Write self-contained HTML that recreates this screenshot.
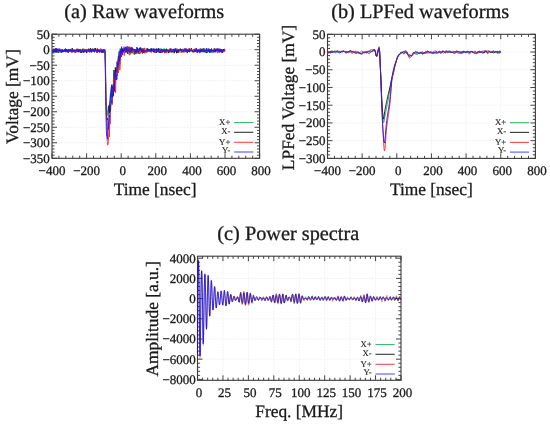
<!DOCTYPE html>
<html><head><meta charset="utf-8"><style>html,body{margin:0;padding:0;background:#fff;width:550px;height:425px;overflow:hidden}svg{display:block;text-rendering:geometricPrecision;filter:blur(0.3px)}text{stroke:#1a1a1a}</style></head>
<body>
<svg width="550" height="425" viewBox="0 0 550 425" font-family="Liberation Serif, Times New Roman, serif" fill="#1a1a1a" stroke-width="0.3">
<rect width="550" height="425" fill="#fff"/>
<path d="M86.60,34.2V158.3M121.20,34.2V158.3M155.80,34.2V158.3M190.40,34.2V158.3M225.00,34.2V158.3M52,142.79H259.6M52,127.28H259.6M52,111.76H259.6M52,96.25H259.6M52,80.74H259.6M52,65.23H259.6M52,49.71H259.6" stroke="#f2f2f2" stroke-width="1" stroke-dasharray="2,1" fill="none"/>
<path d="M52.00,158.3v-5M52.00,34.2v5M86.60,158.3v-5M86.60,34.2v5M121.20,158.3v-5M121.20,34.2v5M155.80,158.3v-5M155.80,34.2v5M190.40,158.3v-5M190.40,34.2v5M225.00,158.3v-5M225.00,34.2v5M259.60,158.3v-5M259.60,34.2v5M58.92,158.3v-2.6M58.92,34.2v2.6M65.84,158.3v-2.6M65.84,34.2v2.6M72.76,158.3v-2.6M72.76,34.2v2.6M79.68,158.3v-2.6M79.68,34.2v2.6M93.52,158.3v-2.6M93.52,34.2v2.6M100.44,158.3v-2.6M100.44,34.2v2.6M107.36,158.3v-2.6M107.36,34.2v2.6M114.28,158.3v-2.6M114.28,34.2v2.6M128.12,158.3v-2.6M128.12,34.2v2.6M135.04,158.3v-2.6M135.04,34.2v2.6M141.96,158.3v-2.6M141.96,34.2v2.6M148.88,158.3v-2.6M148.88,34.2v2.6M162.72,158.3v-2.6M162.72,34.2v2.6M169.64,158.3v-2.6M169.64,34.2v2.6M176.56,158.3v-2.6M176.56,34.2v2.6M183.48,158.3v-2.6M183.48,34.2v2.6M197.32,158.3v-2.6M197.32,34.2v2.6M204.24,158.3v-2.6M204.24,34.2v2.6M211.16,158.3v-2.6M211.16,34.2v2.6M218.08,158.3v-2.6M218.08,34.2v2.6M231.92,158.3v-2.6M231.92,34.2v2.6M238.84,158.3v-2.6M238.84,34.2v2.6M245.76,158.3v-2.6M245.76,34.2v2.6M252.68,158.3v-2.6M252.68,34.2v2.6M52,158.30h5M259.6,158.30h-5M52,142.79h5M259.6,142.79h-5M52,127.28h5M259.6,127.28h-5M52,111.76h5M259.6,111.76h-5M52,96.25h5M259.6,96.25h-5M52,80.74h5M259.6,80.74h-5M52,65.23h5M259.6,65.23h-5M52,49.71h5M259.6,49.71h-5M52,34.20h5M259.6,34.20h-5M52,155.20h2.6M259.6,155.20h-2.6M52,152.09h2.6M259.6,152.09h-2.6M52,148.99h2.6M259.6,148.99h-2.6M52,145.89h2.6M259.6,145.89h-2.6M52,139.69h2.6M259.6,139.69h-2.6M52,136.58h2.6M259.6,136.58h-2.6M52,133.48h2.6M259.6,133.48h-2.6M52,130.38h2.6M259.6,130.38h-2.6M52,124.17h2.6M259.6,124.17h-2.6M52,121.07h2.6M259.6,121.07h-2.6M52,117.97h2.6M259.6,117.97h-2.6M52,114.87h2.6M259.6,114.87h-2.6M52,108.66h2.6M259.6,108.66h-2.6M52,105.56h2.6M259.6,105.56h-2.6M52,102.46h2.6M259.6,102.46h-2.6M52,99.35h2.6M259.6,99.35h-2.6M52,93.15h2.6M259.6,93.15h-2.6M52,90.05h2.6M259.6,90.05h-2.6M52,86.94h2.6M259.6,86.94h-2.6M52,83.84h2.6M259.6,83.84h-2.6M52,77.64h2.6M259.6,77.64h-2.6M52,74.53h2.6M259.6,74.53h-2.6M52,71.43h2.6M259.6,71.43h-2.6M52,68.33h2.6M259.6,68.33h-2.6M52,62.12h2.6M259.6,62.12h-2.6M52,59.02h2.6M259.6,59.02h-2.6M52,55.92h2.6M259.6,55.92h-2.6M52,52.82h2.6M259.6,52.82h-2.6M52,46.61h2.6M259.6,46.61h-2.6M52,43.51h2.6M259.6,43.51h-2.6M52,40.41h2.6M259.6,40.41h-2.6M52,37.30h2.6M259.6,37.30h-2.6" stroke="#444" stroke-width="1" fill="none"/>
<rect x="52" y="34.2" width="207.60" height="124.10" stroke="#3a3a3a" stroke-width="1.1" fill="none"/>
<text x="52.00" y="175.2" text-anchor="middle" font-size="13">−400</text>
<text x="86.60" y="175.2" text-anchor="middle" font-size="13">−200</text>
<text x="122.70" y="175.2" text-anchor="middle" font-size="13">0</text>
<text x="157.30" y="175.2" text-anchor="middle" font-size="13">200</text>
<text x="191.90" y="175.2" text-anchor="middle" font-size="13">400</text>
<text x="226.50" y="175.2" text-anchor="middle" font-size="13">600</text>
<text x="261.10" y="175.2" text-anchor="middle" font-size="13">800</text>
<text x="49.8" y="162.69" text-anchor="end" font-size="13">−350</text>
<text x="49.8" y="147.18" text-anchor="end" font-size="13">−300</text>
<text x="49.8" y="131.67" text-anchor="end" font-size="13">−250</text>
<text x="49.8" y="116.16" text-anchor="end" font-size="13">−200</text>
<text x="49.8" y="100.64" text-anchor="end" font-size="13">−150</text>
<text x="49.8" y="85.13" text-anchor="end" font-size="13">−100</text>
<text x="49.8" y="69.62" text-anchor="end" font-size="13">−50</text>
<text x="49.8" y="54.11" text-anchor="end" font-size="13">0</text>
<text x="49.8" y="38.59" text-anchor="end" font-size="13">50</text>
<g clip-path="url(#ca)">
<clipPath id="ca"><rect x="52" y="34.2" width="207.60000000000002" height="124.10000000000001"/></clipPath>
<polyline points="52.00,50.61 52.35,49.12 52.69,49.28 53.04,51.21 53.38,50.98 53.73,51.23 54.08,50.01 54.42,50.71 54.77,49.81 55.11,52.71 55.46,48.89 55.81,50.75 56.15,49.88 56.50,50.80 56.84,51.07 57.19,50.13 57.54,49.72 57.88,50.87 58.23,50.81 58.57,49.88 58.92,51.62 59.27,52.33 59.61,50.20 59.96,51.39 60.30,52.79 60.65,51.55 61.00,51.17 61.34,51.98 61.69,52.31 62.03,50.60 62.38,49.64 62.73,50.90 63.07,51.47 63.42,50.21 63.76,49.84 64.11,50.98 64.46,50.03 64.80,49.48 65.15,50.87 65.49,51.55 65.84,50.25 66.19,50.37 66.53,49.42 66.88,52.08 67.22,51.38 67.57,51.58 67.92,52.58 68.26,50.50 68.61,50.05 68.95,51.47 69.30,49.10 69.65,49.73 69.99,49.94 70.34,50.19 70.68,49.58 71.03,52.13 71.38,49.96 71.72,49.97 72.07,52.62 72.41,50.26 72.76,50.92 73.11,49.77 73.45,51.13 73.80,50.66 74.14,50.26 74.49,51.62 74.84,49.97 75.18,50.76 75.53,50.09 75.87,51.23 76.22,49.43 76.57,49.97 76.91,50.84 77.26,49.94 77.60,49.24 77.95,48.64 78.30,52.40 78.64,49.66 78.99,50.12 79.33,50.75 79.68,51.77 80.03,49.24 80.37,52.05 80.72,50.01 81.06,49.19 81.41,52.43 81.76,50.98 82.10,52.11 82.45,50.37 82.79,48.95 83.14,48.38 83.49,52.63 83.83,51.29 84.18,49.86 84.52,48.88 84.87,50.17 85.22,51.48 85.56,50.31 85.91,50.66 86.25,50.87 86.60,51.46 86.95,50.21 87.29,50.30 87.64,50.75 87.98,50.89 88.33,52.08 88.68,51.19 89.02,49.30 89.37,50.86 89.71,52.25 90.06,49.15 90.41,50.05 90.75,48.29 91.10,50.57 91.44,51.16 91.79,52.26 92.14,49.16 92.48,48.19 92.83,51.56 93.17,51.37 93.52,49.98 93.87,51.57 94.21,50.95 94.56,51.03 94.90,50.43 95.25,49.42 95.60,50.62 95.94,49.62 96.29,51.11 96.63,50.28 96.98,53.03 97.33,52.26 97.67,49.75 98.02,51.30 98.36,50.00 98.71,50.04 99.06,49.17 99.40,49.74 99.75,49.51 100.09,50.77 100.44,51.42 100.79,51.46 101.13,51.19 101.48,51.91 101.82,51.25 102.17,50.75 102.52,50.36 102.86,51.02 103.21,52.79 103.55,50.72 103.90,50.39 104.25,49.43 104.59,50.00 104.94,51.36 105.28,60.96 105.63,76.17 105.98,93.53 106.32,104.47 106.67,110.94 107.01,115.51 107.36,112.44 107.71,110.57 108.05,108.06 108.40,106.13 108.74,106.23 109.09,104.64 109.44,111.67 109.78,101.95 110.13,102.63 110.47,95.47 110.82,96.63 111.17,88.92 111.51,86.19 111.86,87.43 112.20,85.89 112.55,85.63 112.90,87.09 113.24,84.05 113.59,84.39 113.93,78.12 114.28,78.74 114.63,74.26 114.97,83.34 115.32,69.94 115.66,77.70 116.01,76.33 116.36,72.20 116.70,73.00 117.05,67.11 117.39,70.57 117.74,71.93 118.09,69.25 118.43,55.90 118.78,61.22 119.12,66.25 119.47,58.31 119.82,64.09 120.16,48.26 120.51,60.35 120.85,52.23 121.20,51.44 121.55,55.77 121.89,50.95 122.24,48.87 122.58,49.61 122.93,50.03 123.28,48.44 123.62,50.27 123.97,49.87 124.31,50.93 124.66,49.22 125.01,52.75 125.35,48.88 125.70,51.76 126.04,53.03 126.39,49.85 126.74,46.99 127.08,48.58 127.43,51.74 127.77,49.17 128.12,51.59 128.47,50.90 128.81,50.46 129.16,55.14 129.50,50.25 129.85,52.71 130.20,52.03 130.54,53.56 130.89,53.62 131.23,52.48 131.58,49.05 131.93,47.46 132.27,50.69 132.62,48.59 132.96,51.13 133.31,54.17 133.66,50.37 134.00,49.84 134.35,51.41 134.69,50.11 135.04,49.63 135.39,52.15 135.73,53.20 136.08,51.02 136.42,51.00 136.77,51.24 137.12,49.00 137.46,47.80 137.81,51.32 138.15,49.52 138.50,49.14 138.85,49.52 139.19,49.01 139.54,51.25 139.88,49.51 140.23,47.58 140.58,49.44 140.92,51.56 141.27,49.75 141.61,48.82 141.96,50.12 142.31,51.44 142.65,48.49 143.00,52.37 143.34,49.96 143.69,50.67 144.04,52.23 144.38,49.04 144.73,50.19 145.07,52.14 145.42,49.88 145.77,51.18 146.11,52.99 146.46,51.48 146.80,50.33 147.15,49.89 147.50,50.45 147.84,50.59 148.19,50.11 148.53,50.88 148.88,49.33 149.23,50.48 149.57,50.31 149.92,50.04 150.26,51.82 150.61,51.44 150.96,48.94 151.30,50.27 151.65,50.96 151.99,50.26 152.34,51.18 152.69,50.33 153.03,51.39 153.38,50.33 153.72,52.41 154.07,49.16 154.42,51.22 154.76,52.41 155.11,50.89 155.45,51.06 155.80,50.47 156.15,51.92 156.49,50.20 156.84,48.19 157.18,52.07 157.53,50.27 157.88,50.99 158.22,50.43 158.57,52.67 158.91,51.93 159.26,50.13 159.61,50.69 159.95,48.82 160.30,51.43 160.64,50.45 160.99,48.19 161.34,51.50 161.68,51.65 162.03,50.68 162.37,50.69 162.72,49.70 163.07,50.50 163.41,51.49 163.76,50.41 164.10,48.19 164.45,49.22 164.80,53.10 165.14,50.80 165.49,51.62 165.83,49.95 166.18,50.84 166.53,48.48 166.87,49.60 167.22,49.65 167.56,50.43 167.91,50.69 168.26,50.26 168.60,49.20 168.95,50.05 169.29,51.04 169.64,49.22 169.99,50.43 170.33,50.73 170.68,51.53 171.02,51.28 171.37,51.35 171.72,53.10 172.06,49.51 172.41,50.01 172.75,50.88 173.10,49.47 173.45,50.15 173.79,50.23 174.14,53.10 174.48,50.90 174.83,50.05 175.18,48.85 175.52,48.59 175.87,49.05 176.21,51.94 176.56,53.10 176.91,50.01 177.25,50.61 177.60,49.57 177.94,50.78 178.29,50.40 178.64,52.32 178.98,50.14 179.33,51.14 179.67,50.25 180.02,50.13 180.37,50.77 180.71,50.29 181.06,50.66 181.40,49.80 181.75,50.08 182.10,51.25 182.44,51.30 182.79,48.70 183.13,50.76 183.48,49.54 183.83,50.20 184.17,51.27 184.52,51.48 184.86,50.51 185.21,50.36 185.56,49.96 185.90,52.06 186.25,51.31 186.59,50.75 186.94,48.86 187.29,53.10 187.63,50.15 187.98,51.25 188.32,50.16 188.67,51.19 189.02,50.24 189.36,48.90 189.71,50.25 190.05,50.16 190.40,50.23 190.75,51.48 191.09,50.04 191.44,50.88 191.78,51.55 192.13,50.69 192.48,50.90 192.82,49.80 193.17,50.69 193.51,51.23 193.86,49.02 194.21,49.54 194.55,49.23 194.90,49.96 195.24,50.77 195.59,51.11 195.94,50.96 196.28,49.58 196.63,50.52 196.97,52.30 197.32,50.69 197.67,52.22 198.01,50.46 198.36,51.99 198.70,52.05 199.05,50.51 199.40,50.73 199.74,52.50 200.09,49.81 200.43,48.23 200.78,52.30 201.13,48.61 201.47,51.41 201.82,51.20 202.16,50.84 202.51,52.26 202.86,49.19 203.20,50.09 203.55,51.48 203.89,50.95 204.24,52.34 204.59,51.03 204.93,49.60 205.28,52.56 205.62,51.13 205.97,50.48 206.32,49.47 206.66,49.14 207.01,51.15 207.35,51.47 207.70,50.14 208.05,51.05 208.39,50.99 208.74,49.44 209.08,48.76 209.43,50.35 209.78,50.86 210.12,50.01 210.47,52.75 210.81,50.66 211.16,51.83 211.51,48.19 211.85,49.84 212.20,50.49 212.54,50.86 212.89,53.10 213.24,49.85 213.58,48.82 213.93,51.46 214.27,49.88 214.62,49.84 214.97,52.37 215.31,49.60 215.66,49.13 216.00,50.39 216.35,50.71 216.70,49.76 217.04,52.36 217.39,50.54 217.73,49.47 218.08,52.03 218.43,49.53 218.77,51.11 219.12,52.97 219.46,50.76 219.81,51.73 220.16,50.29 220.50,51.95 220.85,49.47 221.19,51.47 221.54,50.25 221.89,51.31 222.23,51.00 222.58,49.31 222.92,50.40 223.27,51.08 223.62,52.04 223.96,49.35 224.31,49.82 224.65,51.01 225.00,50.37" stroke="#22aa44" stroke-width="0.9" fill="none" stroke-linejoin="round" opacity="0.9"/>
<polyline points="52.00,50.65 52.35,49.47 52.69,49.81 53.04,49.83 53.38,48.84 53.73,51.99 54.08,51.34 54.42,52.12 54.77,50.76 55.11,49.53 55.46,50.67 55.81,50.09 56.15,52.78 56.50,50.48 56.84,51.66 57.19,48.66 57.54,49.65 57.88,49.58 58.23,50.71 58.57,49.96 58.92,49.91 59.27,51.03 59.61,51.20 59.96,50.77 60.30,51.32 60.65,51.31 61.00,50.96 61.34,51.46 61.69,49.79 62.03,52.43 62.38,49.72 62.73,51.34 63.07,51.25 63.42,52.15 63.76,50.80 64.11,50.92 64.46,50.43 64.80,51.24 65.15,50.54 65.49,48.61 65.84,50.19 66.19,51.28 66.53,49.58 66.88,50.79 67.22,49.98 67.57,49.96 67.92,51.08 68.26,52.80 68.61,51.03 68.95,50.03 69.30,51.07 69.65,50.15 69.99,49.55 70.34,51.25 70.68,49.27 71.03,48.83 71.38,49.44 71.72,49.34 72.07,49.42 72.41,48.19 72.76,50.44 73.11,50.64 73.45,49.97 73.80,51.66 74.14,52.38 74.49,51.63 74.84,50.23 75.18,50.11 75.53,52.36 75.87,52.75 76.22,51.00 76.57,50.85 76.91,50.70 77.26,49.89 77.60,49.27 77.95,50.39 78.30,49.96 78.64,51.87 78.99,51.96 79.33,50.38 79.68,49.90 80.03,49.83 80.37,49.98 80.72,49.77 81.06,49.74 81.41,52.60 81.76,51.46 82.10,50.13 82.45,49.98 82.79,52.33 83.14,49.33 83.49,51.13 83.83,50.90 84.18,50.34 84.52,49.81 84.87,52.24 85.22,49.54 85.56,50.56 85.91,51.50 86.25,50.95 86.60,53.08 86.95,51.37 87.29,50.44 87.64,51.44 87.98,51.01 88.33,50.81 88.68,50.59 89.02,49.50 89.37,50.67 89.71,50.93 90.06,50.04 90.41,48.32 90.75,51.03 91.10,50.07 91.44,52.40 91.79,49.14 92.14,49.91 92.48,49.15 92.83,50.71 93.17,51.81 93.52,49.65 93.87,49.80 94.21,51.61 94.56,52.29 94.90,50.14 95.25,50.83 95.60,48.19 95.94,51.33 96.29,51.23 96.63,50.77 96.98,52.50 97.33,51.64 97.67,48.81 98.02,50.79 98.36,51.32 98.71,52.06 99.06,49.99 99.40,49.91 99.75,50.36 100.09,51.08 100.44,50.30 100.79,50.22 101.13,51.40 101.48,49.95 101.82,53.01 102.17,52.08 102.52,50.98 102.86,50.76 103.21,51.94 103.55,50.28 103.90,49.46 104.25,50.14 104.59,50.39 104.94,49.72 105.28,61.36 105.63,84.50 105.98,101.69 106.32,112.70 106.67,120.17 107.01,118.33 107.36,118.58 107.71,119.56 108.05,119.17 108.40,111.01 108.74,107.87 109.09,105.89 109.44,113.19 109.78,104.47 110.13,98.60 110.47,93.05 110.82,92.51 111.17,89.71 111.51,86.40 111.86,86.11 112.20,93.34 112.55,86.94 112.90,89.59 113.24,96.25 113.59,92.00 113.93,70.03 114.28,86.16 114.63,90.67 114.97,80.41 115.32,67.47 115.66,74.56 116.01,70.63 116.36,72.87 116.70,70.37 117.05,61.53 117.39,62.60 117.74,65.82 118.09,58.81 118.43,56.13 118.78,61.53 119.12,57.33 119.47,56.08 119.82,58.95 120.16,50.45 120.51,54.69 120.85,55.17 121.20,56.92 121.55,54.62 121.89,47.90 122.24,53.33 122.58,49.63 122.93,51.50 123.28,49.46 123.62,49.26 123.97,52.42 124.31,51.30 124.66,50.42 125.01,50.39 125.35,50.71 125.70,51.33 126.04,49.27 126.39,47.79 126.74,49.48 127.08,52.22 127.43,49.80 127.77,50.51 128.12,49.68 128.47,46.83 128.81,51.08 129.16,50.67 129.50,52.43 129.85,51.22 130.20,51.77 130.54,47.49 130.89,50.05 131.23,51.75 131.58,46.94 131.93,53.17 132.27,49.02 132.62,48.74 132.96,49.58 133.31,51.12 133.66,50.88 134.00,51.26 134.35,49.24 134.69,54.54 135.04,51.54 135.39,50.38 135.73,51.64 136.08,53.74 136.42,51.05 136.77,51.91 137.12,49.32 137.46,48.35 137.81,50.53 138.15,53.75 138.50,50.95 138.85,52.10 139.19,49.58 139.54,48.04 139.88,50.16 140.23,47.58 140.58,48.39 140.92,49.62 141.27,51.90 141.61,50.34 141.96,52.55 142.31,49.02 142.65,50.31 143.00,48.58 143.34,50.07 143.69,53.06 144.04,49.60 144.38,49.24 144.73,48.31 145.07,51.70 145.42,51.62 145.77,50.38 146.11,51.76 146.46,52.13 146.80,51.78 147.15,48.06 147.50,51.22 147.84,51.66 148.19,51.02 148.53,50.52 148.88,49.08 149.23,49.47 149.57,49.65 149.92,50.48 150.26,50.35 150.61,51.24 150.96,52.21 151.30,48.25 151.65,51.04 151.99,49.40 152.34,50.89 152.69,50.64 153.03,50.71 153.38,52.07 153.72,50.62 154.07,50.11 154.42,49.61 154.76,49.99 155.11,49.40 155.45,50.21 155.80,50.55 156.15,52.74 156.49,51.14 156.84,48.81 157.18,50.41 157.53,49.66 157.88,50.79 158.22,51.30 158.57,48.26 158.91,50.15 159.26,48.88 159.61,49.96 159.95,50.88 160.30,53.06 160.64,50.45 160.99,52.30 161.34,53.03 161.68,49.17 162.03,49.74 162.37,49.83 162.72,50.50 163.07,50.59 163.41,50.08 163.76,50.38 164.10,50.47 164.45,49.73 164.80,53.10 165.14,49.56 165.49,51.27 165.83,49.60 166.18,49.25 166.53,51.51 166.87,49.68 167.22,49.70 167.56,51.38 167.91,51.19 168.26,50.48 168.60,53.10 168.95,51.12 169.29,50.41 169.64,51.13 169.99,52.42 170.33,51.07 170.68,48.94 171.02,49.15 171.37,50.77 171.72,51.53 172.06,50.65 172.41,50.62 172.75,51.39 173.10,51.01 173.45,49.94 173.79,49.59 174.14,53.10 174.48,49.55 174.83,50.49 175.18,49.35 175.52,50.66 175.87,50.15 176.21,48.81 176.56,53.10 176.91,48.86 177.25,50.43 177.60,52.68 177.94,53.10 178.29,50.29 178.64,51.79 178.98,49.52 179.33,50.40 179.67,50.79 180.02,49.53 180.37,50.42 180.71,49.81 181.06,49.71 181.40,50.28 181.75,49.76 182.10,49.76 182.44,52.17 182.79,50.95 183.13,50.78 183.48,51.06 183.83,52.42 184.17,51.28 184.52,50.26 184.86,50.43 185.21,48.94 185.56,51.32 185.90,51.13 186.25,51.28 186.59,51.00 186.94,51.32 187.29,52.73 187.63,50.26 187.98,49.54 188.32,49.39 188.67,51.86 189.02,50.86 189.36,48.58 189.71,50.76 190.05,50.25 190.40,50.81 190.75,49.52 191.09,49.56 191.44,48.19 191.78,50.08 192.13,50.14 192.48,52.00 192.82,51.10 193.17,51.43 193.51,51.01 193.86,52.11 194.21,49.28 194.55,51.82 194.90,50.34 195.24,52.05 195.59,50.26 195.94,48.79 196.28,51.56 196.63,50.24 196.97,50.72 197.32,50.33 197.67,50.17 198.01,51.35 198.36,50.84 198.70,51.30 199.05,51.56 199.40,52.02 199.74,49.56 200.09,51.47 200.43,49.90 200.78,50.02 201.13,51.76 201.47,49.47 201.82,51.60 202.16,49.94 202.51,49.01 202.86,51.44 203.20,51.68 203.55,51.70 203.89,48.19 204.24,51.06 204.59,52.06 204.93,49.73 205.28,50.84 205.62,50.68 205.97,51.76 206.32,53.10 206.66,51.47 207.01,51.82 207.35,52.46 207.70,51.87 208.05,51.71 208.39,49.76 208.74,49.87 209.08,50.08 209.43,51.25 209.78,52.06 210.12,50.32 210.47,50.14 210.81,49.54 211.16,50.69 211.51,50.80 211.85,50.31 212.20,51.69 212.54,51.55 212.89,49.94 213.24,52.06 213.58,50.74 213.93,49.78 214.27,50.39 214.62,50.17 214.97,51.89 215.31,50.79 215.66,50.95 216.00,49.97 216.35,50.18 216.70,50.61 217.04,48.52 217.39,50.03 217.73,50.95 218.08,51.32 218.43,50.67 218.77,51.27 219.12,48.80 219.46,49.99 219.81,50.97 220.16,51.35 220.50,51.82 220.85,50.93 221.19,49.15 221.54,49.68 221.89,50.68 222.23,50.46 222.58,52.70 222.92,49.76 223.27,50.86 223.62,49.08 223.96,50.81 224.31,51.15 224.65,50.37 225.00,51.32" stroke="#111111" stroke-width="0.9" fill="none" stroke-linejoin="round" opacity="0.9"/>
<polyline points="52.00,48.60 52.35,53.10 52.69,49.57 53.04,50.57 53.38,49.17 53.73,50.21 54.08,48.60 54.42,50.61 54.77,51.22 55.11,49.99 55.46,50.16 55.81,51.04 56.15,50.92 56.50,49.84 56.84,49.86 57.19,51.19 57.54,51.05 57.88,52.66 58.23,48.77 58.57,50.89 58.92,49.15 59.27,50.18 59.61,48.47 59.96,48.93 60.30,50.29 60.65,48.99 61.00,51.70 61.34,49.24 61.69,52.30 62.03,50.26 62.38,49.45 62.73,50.39 63.07,51.05 63.42,51.54 63.76,51.03 64.11,49.47 64.46,49.65 64.80,50.94 65.15,52.03 65.49,49.89 65.84,52.26 66.19,51.24 66.53,51.46 66.88,49.81 67.22,50.38 67.57,50.13 67.92,50.34 68.26,51.40 68.61,50.05 68.95,49.07 69.30,50.68 69.65,49.94 69.99,50.78 70.34,49.49 70.68,49.90 71.03,49.67 71.38,50.25 71.72,48.81 72.07,51.05 72.41,51.02 72.76,51.30 73.11,49.96 73.45,51.34 73.80,51.36 74.14,49.83 74.49,49.35 74.84,50.00 75.18,53.10 75.53,51.71 75.87,51.84 76.22,51.99 76.57,51.10 76.91,48.61 77.26,50.99 77.60,51.46 77.95,49.86 78.30,50.57 78.64,50.51 78.99,51.41 79.33,50.64 79.68,50.16 80.03,52.78 80.37,52.44 80.72,49.43 81.06,49.70 81.41,51.21 81.76,51.78 82.10,50.85 82.45,51.98 82.79,51.02 83.14,48.80 83.49,50.50 83.83,49.34 84.18,50.89 84.52,50.23 84.87,49.10 85.22,52.14 85.56,51.03 85.91,50.82 86.25,50.33 86.60,48.91 86.95,49.88 87.29,52.32 87.64,50.95 87.98,51.64 88.33,51.67 88.68,48.38 89.02,51.83 89.37,50.38 89.71,51.44 90.06,49.68 90.41,50.25 90.75,50.50 91.10,50.73 91.44,49.37 91.79,51.68 92.14,51.46 92.48,51.89 92.83,49.15 93.17,50.97 93.52,51.80 93.87,51.11 94.21,48.19 94.56,50.76 94.90,49.69 95.25,50.12 95.60,50.66 95.94,51.42 96.29,51.02 96.63,51.04 96.98,53.10 97.33,48.19 97.67,49.61 98.02,50.51 98.36,50.87 98.71,51.53 99.06,49.58 99.40,50.85 99.75,50.11 100.09,52.19 100.44,50.22 100.79,48.41 101.13,50.97 101.48,49.75 101.82,50.60 102.17,49.41 102.52,49.45 102.86,50.57 103.21,51.27 103.55,50.32 103.90,50.60 104.25,51.33 104.59,50.13 104.94,50.16 105.28,51.64 105.63,75.79 105.98,96.01 106.32,116.74 106.67,131.72 107.01,137.12 107.36,141.20 107.71,145.21 108.05,144.28 108.40,141.65 108.74,129.72 109.09,122.87 109.44,136.93 109.78,115.31 110.13,124.17 110.47,112.09 110.82,107.21 111.17,104.13 111.51,103.60 111.86,100.04 112.20,104.72 112.55,94.67 112.90,88.73 113.24,87.10 113.59,78.39 113.93,82.84 114.28,83.21 114.63,76.54 114.97,82.72 115.32,89.44 115.66,92.78 116.01,72.18 116.36,74.44 116.70,71.29 117.05,76.09 117.39,70.71 117.74,60.57 118.09,67.12 118.43,73.02 118.78,67.21 119.12,55.25 119.47,66.81 119.82,70.12 120.16,67.60 120.51,61.79 120.85,52.18 121.20,53.85 121.55,55.36 121.89,55.47 122.24,51.89 122.58,51.42 122.93,51.89 123.28,51.22 123.62,52.42 123.97,46.48 124.31,55.69 124.66,50.37 125.01,52.93 125.35,49.06 125.70,51.17 126.04,49.83 126.39,49.48 126.74,50.20 127.08,48.50 127.43,53.62 127.77,48.62 128.12,51.11 128.47,49.85 128.81,47.41 129.16,48.33 129.50,46.59 129.85,55.10 130.20,52.56 130.54,48.72 130.89,52.88 131.23,51.00 131.58,47.32 131.93,48.96 132.27,52.48 132.62,49.78 132.96,49.43 133.31,50.52 133.66,50.83 134.00,50.38 134.35,53.36 134.69,50.42 135.04,52.36 135.39,49.95 135.73,49.89 136.08,52.19 136.42,49.59 136.77,50.04 137.12,50.71 137.46,49.44 137.81,51.16 138.15,51.11 138.50,50.52 138.85,50.74 139.19,48.84 139.54,54.08 139.88,51.12 140.23,53.73 140.58,51.44 140.92,50.30 141.27,50.68 141.61,49.27 141.96,50.23 142.31,53.79 142.65,52.28 143.00,48.53 143.34,48.55 143.69,50.57 144.04,52.80 144.38,47.82 144.73,53.48 145.07,50.32 145.42,50.79 145.77,50.42 146.11,52.19 146.46,51.23 146.80,49.42 147.15,51.32 147.50,52.37 147.84,50.76 148.19,50.64 148.53,50.89 148.88,51.62 149.23,50.13 149.57,50.88 149.92,52.06 150.26,50.50 150.61,50.77 150.96,50.58 151.30,52.65 151.65,51.60 151.99,50.23 152.34,49.69 152.69,50.34 153.03,50.55 153.38,49.91 153.72,49.62 154.07,48.73 154.42,50.18 154.76,51.33 155.11,50.16 155.45,52.87 155.80,50.62 156.15,51.18 156.49,50.70 156.84,50.12 157.18,50.61 157.53,52.29 157.88,51.06 158.22,51.56 158.57,50.68 158.91,50.25 159.26,51.73 159.61,49.84 159.95,49.20 160.30,50.95 160.64,49.84 160.99,52.31 161.34,51.25 161.68,49.57 162.03,52.62 162.37,51.22 162.72,51.65 163.07,49.37 163.41,49.37 163.76,51.35 164.10,50.51 164.45,53.10 164.80,49.70 165.14,50.26 165.49,49.17 165.83,53.10 166.18,50.26 166.53,51.04 166.87,53.10 167.22,51.42 167.56,50.74 167.91,49.75 168.26,50.43 168.60,51.23 168.95,50.15 169.29,50.77 169.64,51.38 169.99,51.79 170.33,50.48 170.68,50.47 171.02,48.59 171.37,51.15 171.72,48.86 172.06,50.26 172.41,49.33 172.75,51.66 173.10,51.62 173.45,50.99 173.79,49.65 174.14,50.45 174.48,49.80 174.83,50.29 175.18,49.50 175.52,50.42 175.87,51.23 176.21,50.07 176.56,50.54 176.91,48.69 177.25,50.82 177.60,50.52 177.94,50.99 178.29,49.35 178.64,49.67 178.98,49.92 179.33,52.04 179.67,52.34 180.02,50.35 180.37,49.84 180.71,48.99 181.06,52.65 181.40,50.83 181.75,52.53 182.10,51.72 182.44,50.89 182.79,49.57 183.13,51.23 183.48,51.45 183.83,51.00 184.17,49.24 184.52,48.19 184.86,52.37 185.21,50.95 185.56,51.12 185.90,49.34 186.25,50.16 186.59,48.92 186.94,51.77 187.29,50.63 187.63,51.15 187.98,51.87 188.32,50.82 188.67,51.97 189.02,48.22 189.36,50.18 189.71,51.78 190.05,51.32 190.40,48.71 190.75,51.18 191.09,49.87 191.44,49.99 191.78,49.42 192.13,49.93 192.48,50.88 192.82,51.30 193.17,52.63 193.51,50.70 193.86,50.49 194.21,51.05 194.55,50.80 194.90,52.00 195.24,48.22 195.59,51.20 195.94,51.80 196.28,51.31 196.63,50.83 196.97,49.81 197.32,53.10 197.67,50.07 198.01,51.33 198.36,50.84 198.70,49.51 199.05,49.79 199.40,51.40 199.74,50.75 200.09,48.55 200.43,49.12 200.78,49.67 201.13,50.63 201.47,49.56 201.82,50.20 202.16,51.25 202.51,51.76 202.86,50.05 203.20,50.21 203.55,49.29 203.89,51.18 204.24,49.07 204.59,51.05 204.93,49.24 205.28,50.03 205.62,51.28 205.97,51.70 206.32,50.77 206.66,50.93 207.01,49.59 207.35,51.41 207.70,52.29 208.05,50.66 208.39,48.49 208.74,48.81 209.08,51.33 209.43,50.95 209.78,50.28 210.12,51.38 210.47,50.91 210.81,50.95 211.16,51.81 211.51,51.33 211.85,51.18 212.20,50.38 212.54,51.96 212.89,50.52 213.24,51.74 213.58,51.54 213.93,51.90 214.27,48.19 214.62,49.24 214.97,49.14 215.31,49.73 215.66,50.90 216.00,50.56 216.35,50.32 216.70,50.14 217.04,49.98 217.39,48.93 217.73,53.10 218.08,51.26 218.43,49.88 218.77,51.04 219.12,50.82 219.46,48.97 219.81,50.43 220.16,48.65 220.50,50.69 220.85,50.38 221.19,51.83 221.54,52.86 221.89,51.11 222.23,50.57 222.58,51.03 222.92,52.15 223.27,49.91 223.62,50.56 223.96,50.63 224.31,51.51 224.65,48.80 225.00,48.99" stroke="#ff2020" stroke-width="0.9" fill="none" stroke-linejoin="round" opacity="0.9"/>
<polyline points="52.00,49.87 52.35,51.74 52.69,52.40 53.04,53.10 53.38,51.04 53.73,49.25 54.08,50.61 54.42,50.07 54.77,49.50 55.11,51.63 55.46,48.19 55.81,51.62 56.15,50.23 56.50,48.19 56.84,50.77 57.19,50.52 57.54,51.21 57.88,50.27 58.23,53.02 58.57,51.37 58.92,48.75 59.27,50.41 59.61,50.91 59.96,50.23 60.30,50.18 60.65,50.47 61.00,50.00 61.34,52.50 61.69,49.98 62.03,51.40 62.38,49.77 62.73,50.67 63.07,51.76 63.42,50.72 63.76,51.77 64.11,49.51 64.46,50.68 64.80,49.69 65.15,51.89 65.49,48.83 65.84,50.98 66.19,49.12 66.53,49.69 66.88,51.87 67.22,50.28 67.57,51.25 67.92,50.19 68.26,49.04 68.61,49.87 68.95,49.45 69.30,51.95 69.65,50.42 69.99,50.24 70.34,49.43 70.68,51.34 71.03,50.01 71.38,50.16 71.72,52.35 72.07,51.80 72.41,50.15 72.76,51.96 73.11,52.01 73.45,49.64 73.80,50.32 74.14,50.91 74.49,50.53 74.84,51.10 75.18,51.24 75.53,51.16 75.87,50.21 76.22,49.17 76.57,51.17 76.91,50.72 77.26,50.89 77.60,52.05 77.95,50.36 78.30,49.68 78.64,51.59 78.99,49.71 79.33,51.28 79.68,49.36 80.03,49.29 80.37,51.07 80.72,52.88 81.06,51.03 81.41,52.20 81.76,52.11 82.10,50.93 82.45,49.12 82.79,50.75 83.14,50.89 83.49,52.71 83.83,51.32 84.18,52.20 84.52,50.06 84.87,51.23 85.22,50.69 85.56,50.66 85.91,50.85 86.25,49.58 86.60,50.10 86.95,51.00 87.29,50.47 87.64,50.03 87.98,49.11 88.33,50.50 88.68,49.03 89.02,51.31 89.37,50.90 89.71,52.30 90.06,49.73 90.41,51.80 90.75,51.80 91.10,49.70 91.44,51.24 91.79,51.48 92.14,49.58 92.48,50.85 92.83,49.62 93.17,51.09 93.52,49.83 93.87,49.44 94.21,50.55 94.56,48.63 94.90,51.09 95.25,50.88 95.60,50.55 95.94,49.52 96.29,50.96 96.63,51.13 96.98,50.36 97.33,49.25 97.67,51.11 98.02,52.07 98.36,50.79 98.71,49.95 99.06,51.25 99.40,50.50 99.75,52.73 100.09,50.62 100.44,50.53 100.79,49.95 101.13,50.30 101.48,49.78 101.82,51.75 102.17,49.91 102.52,52.49 102.86,51.31 103.21,49.41 103.55,49.69 103.90,52.71 104.25,49.99 104.59,51.12 104.94,51.51 105.28,64.22 105.63,90.78 105.98,111.92 106.32,130.76 106.67,135.51 107.01,134.84 107.36,139.22 107.71,126.04 108.05,119.16 108.40,129.55 108.74,121.47 109.09,122.06 109.44,115.46 109.78,116.60 110.13,104.29 110.47,111.40 110.82,94.39 111.17,97.21 111.51,84.68 111.86,103.43 112.20,92.83 112.55,97.37 112.90,89.32 113.24,84.53 113.59,90.37 113.93,91.70 114.28,91.85 114.63,79.68 114.97,72.37 115.32,71.39 115.66,76.07 116.01,79.97 116.36,75.16 116.70,79.86 117.05,78.66 117.39,62.62 117.74,68.21 118.09,63.13 118.43,64.46 118.78,53.89 119.12,51.52 119.47,61.67 119.82,58.07 120.16,58.10 120.51,49.47 120.85,49.41 121.20,53.54 121.55,46.68 121.89,51.35 122.24,53.63 122.58,55.12 122.93,50.98 123.28,49.90 123.62,52.00 123.97,49.81 124.31,47.92 124.66,50.78 125.01,48.75 125.35,46.94 125.70,49.54 126.04,51.92 126.39,49.70 126.74,49.48 127.08,46.06 127.43,51.57 127.77,53.91 128.12,50.02 128.47,49.97 128.81,51.50 129.16,49.49 129.50,50.00 129.85,48.21 130.20,52.31 130.54,52.03 130.89,50.69 131.23,51.63 131.58,48.19 131.93,49.54 132.27,50.69 132.62,47.77 132.96,49.71 133.31,48.80 133.66,49.17 134.00,50.91 134.35,50.90 134.69,50.63 135.04,52.57 135.39,51.25 135.73,49.17 136.08,50.11 136.42,52.24 136.77,46.95 137.12,52.36 137.46,49.62 137.81,49.46 138.15,48.58 138.50,52.02 138.85,50.60 139.19,50.94 139.54,48.87 139.88,50.04 140.23,50.00 140.58,49.82 140.92,47.72 141.27,49.63 141.61,49.34 141.96,51.94 142.31,49.62 142.65,52.34 143.00,49.29 143.34,50.38 143.69,51.78 144.04,52.11 144.38,50.70 144.73,50.41 145.07,51.29 145.42,50.98 145.77,50.95 146.11,51.22 146.46,50.80 146.80,50.24 147.15,49.03 147.50,49.81 147.84,51.21 148.19,48.72 148.53,49.23 148.88,50.83 149.23,49.40 149.57,51.13 149.92,51.38 150.26,51.34 150.61,48.72 150.96,50.37 151.30,50.17 151.65,50.45 151.99,50.97 152.34,49.97 152.69,49.75 153.03,48.32 153.38,51.45 153.72,48.79 154.07,49.75 154.42,52.42 154.76,49.41 155.11,48.69 155.45,49.27 155.80,50.21 156.15,50.31 156.49,52.70 156.84,50.13 157.18,50.29 157.53,51.52 157.88,50.27 158.22,51.23 158.57,48.19 158.91,51.85 159.26,51.50 159.61,52.92 159.95,50.96 160.30,50.40 160.64,50.52 160.99,51.25 161.34,49.56 161.68,50.28 162.03,49.22 162.37,50.68 162.72,52.52 163.07,50.72 163.41,51.69 163.76,49.64 164.10,51.25 164.45,50.85 164.80,50.60 165.14,52.28 165.49,51.02 165.83,49.62 166.18,51.23 166.53,50.78 166.87,50.42 167.22,51.36 167.56,50.94 167.91,50.12 168.26,51.03 168.60,50.56 168.95,50.78 169.29,51.78 169.64,52.06 169.99,48.41 170.33,49.09 170.68,50.76 171.02,49.57 171.37,49.39 171.72,49.55 172.06,51.03 172.41,52.22 172.75,52.03 173.10,50.89 173.45,49.12 173.79,48.88 174.14,50.89 174.48,50.99 174.83,49.28 175.18,48.32 175.52,51.65 175.87,50.09 176.21,50.46 176.56,50.97 176.91,50.97 177.25,50.99 177.60,50.62 177.94,52.33 178.29,50.62 178.64,49.74 178.98,49.77 179.33,49.73 179.67,50.24 180.02,50.39 180.37,48.44 180.71,50.81 181.06,50.43 181.40,49.22 181.75,50.56 182.10,52.05 182.44,51.22 182.79,51.09 183.13,50.78 183.48,51.11 183.83,49.50 184.17,49.82 184.52,50.07 184.86,51.05 185.21,49.46 185.56,49.50 185.90,48.19 186.25,51.28 186.59,50.72 186.94,49.06 187.29,51.80 187.63,50.30 187.98,50.35 188.32,50.53 188.67,51.64 189.02,50.55 189.36,52.25 189.71,49.27 190.05,51.14 190.40,50.42 190.75,50.61 191.09,50.39 191.44,50.46 191.78,50.13 192.13,51.01 192.48,50.57 192.82,51.84 193.17,51.77 193.51,51.56 193.86,51.74 194.21,52.14 194.55,51.31 194.90,49.92 195.24,50.16 195.59,51.08 195.94,50.27 196.28,50.21 196.63,48.19 196.97,52.38 197.32,50.34 197.67,52.07 198.01,49.22 198.36,50.85 198.70,50.12 199.05,50.38 199.40,49.83 199.74,53.10 200.09,51.89 200.43,50.51 200.78,52.08 201.13,49.99 201.47,49.23 201.82,52.04 202.16,51.08 202.51,49.90 202.86,48.59 203.20,49.48 203.55,49.79 203.89,51.57 204.24,50.57 204.59,50.46 204.93,51.27 205.28,50.14 205.62,50.95 205.97,51.09 206.32,48.24 206.66,50.79 207.01,48.52 207.35,51.03 207.70,50.69 208.05,51.99 208.39,51.25 208.74,48.85 209.08,50.60 209.43,52.83 209.78,49.04 210.12,51.61 210.47,51.09 210.81,50.67 211.16,52.72 211.51,48.92 211.85,49.21 212.20,51.00 212.54,50.24 212.89,50.96 213.24,51.30 213.58,50.90 213.93,52.24 214.27,51.09 214.62,51.27 214.97,48.52 215.31,52.27 215.66,49.24 216.00,49.85 216.35,50.48 216.70,51.31 217.04,48.63 217.39,49.02 217.73,50.69 218.08,50.86 218.43,50.43 218.77,48.61 219.12,51.65 219.46,50.55 219.81,49.38 220.16,52.19 220.50,50.73 220.85,49.40 221.19,51.13 221.54,50.77 221.89,52.36 222.23,50.22 222.58,51.95 222.92,51.08 223.27,50.27 223.62,51.27 223.96,49.68 224.31,49.85 224.65,50.11 225.00,49.55" stroke="#1a1aff" stroke-width="0.9" fill="none" stroke-linejoin="round" opacity="0.9"/>
</g>
<text x="144.3" y="17.8" text-anchor="middle" font-size="20.3">(a) Raw waveforms</text>
<text x="155.1" y="194.8" text-anchor="middle" font-size="17.4">Time [nsec]</text>
<text transform="translate(17.8,96.7) rotate(-90)" text-anchor="middle" font-size="17.4">Voltage [mV]</text>
<text x="230.3" y="125.1" text-anchor="end" font-size="8.7" stroke-width="0.1">X+</text>
<line x1="234.1" y1="122.6" x2="253.3" y2="122.6" stroke="#33bb66" stroke-width="1.1"/>
<text x="230.3" y="133.5" text-anchor="end" font-size="8.7" stroke-width="0.1">X-</text>
<line x1="234.1" y1="132.3" x2="253.3" y2="132.3" stroke="#333333" stroke-width="1.1"/>
<text x="230.3" y="144.7" text-anchor="end" font-size="8.7" stroke-width="0.1">Y+</text>
<line x1="234.1" y1="142.3" x2="253.3" y2="142.3" stroke="#ff4444" stroke-width="1.1"/>
<text x="230.3" y="153.3" text-anchor="end" font-size="8.7" stroke-width="0.1">Y-</text>
<line x1="234.1" y1="152.0" x2="253.3" y2="152.0" stroke="#5555ff" stroke-width="1.1"/>
<path d="M362.15,34.3V158.4M396.80,34.3V158.4M431.45,34.3V158.4M466.10,34.3V158.4M500.75,34.3V158.4M327.5,140.67H535.4M327.5,122.94H535.4M327.5,105.21H535.4M327.5,87.49H535.4M327.5,69.76H535.4M327.5,52.03H535.4" stroke="#f2f2f2" stroke-width="1" stroke-dasharray="2,1" fill="none"/>
<path d="M327.50,158.4v-5M327.50,34.3v5M362.15,158.4v-5M362.15,34.3v5M396.80,158.4v-5M396.80,34.3v5M431.45,158.4v-5M431.45,34.3v5M466.10,158.4v-5M466.10,34.3v5M500.75,158.4v-5M500.75,34.3v5M535.40,158.4v-5M535.40,34.3v5M334.43,158.4v-2.6M334.43,34.3v2.6M341.36,158.4v-2.6M341.36,34.3v2.6M348.29,158.4v-2.6M348.29,34.3v2.6M355.22,158.4v-2.6M355.22,34.3v2.6M369.08,158.4v-2.6M369.08,34.3v2.6M376.01,158.4v-2.6M376.01,34.3v2.6M382.94,158.4v-2.6M382.94,34.3v2.6M389.87,158.4v-2.6M389.87,34.3v2.6M403.73,158.4v-2.6M403.73,34.3v2.6M410.66,158.4v-2.6M410.66,34.3v2.6M417.59,158.4v-2.6M417.59,34.3v2.6M424.52,158.4v-2.6M424.52,34.3v2.6M438.38,158.4v-2.6M438.38,34.3v2.6M445.31,158.4v-2.6M445.31,34.3v2.6M452.24,158.4v-2.6M452.24,34.3v2.6M459.17,158.4v-2.6M459.17,34.3v2.6M473.03,158.4v-2.6M473.03,34.3v2.6M479.96,158.4v-2.6M479.96,34.3v2.6M486.89,158.4v-2.6M486.89,34.3v2.6M493.82,158.4v-2.6M493.82,34.3v2.6M507.68,158.4v-2.6M507.68,34.3v2.6M514.61,158.4v-2.6M514.61,34.3v2.6M521.54,158.4v-2.6M521.54,34.3v2.6M528.47,158.4v-2.6M528.47,34.3v2.6M327.5,158.40h5M535.4,158.40h-5M327.5,140.67h5M535.4,140.67h-5M327.5,122.94h5M535.4,122.94h-5M327.5,105.21h5M535.4,105.21h-5M327.5,87.49h5M535.4,87.49h-5M327.5,69.76h5M535.4,69.76h-5M327.5,52.03h5M535.4,52.03h-5M327.5,34.30h5M535.4,34.30h-5M327.5,154.85h2.6M535.4,154.85h-2.6M327.5,151.31h2.6M535.4,151.31h-2.6M327.5,147.76h2.6M535.4,147.76h-2.6M327.5,144.22h2.6M535.4,144.22h-2.6M327.5,137.13h2.6M535.4,137.13h-2.6M327.5,133.58h2.6M535.4,133.58h-2.6M327.5,130.03h2.6M535.4,130.03h-2.6M327.5,126.49h2.6M535.4,126.49h-2.6M327.5,119.40h2.6M535.4,119.40h-2.6M327.5,115.85h2.6M535.4,115.85h-2.6M327.5,112.31h2.6M535.4,112.31h-2.6M327.5,108.76h2.6M535.4,108.76h-2.6M327.5,101.67h2.6M535.4,101.67h-2.6M327.5,98.12h2.6M535.4,98.12h-2.6M327.5,94.58h2.6M535.4,94.58h-2.6M327.5,91.03h2.6M535.4,91.03h-2.6M327.5,83.94h2.6M535.4,83.94h-2.6M327.5,80.39h2.6M535.4,80.39h-2.6M327.5,76.85h2.6M535.4,76.85h-2.6M327.5,73.30h2.6M535.4,73.30h-2.6M327.5,66.21h2.6M535.4,66.21h-2.6M327.5,62.67h2.6M535.4,62.67h-2.6M327.5,59.12h2.6M535.4,59.12h-2.6M327.5,55.57h2.6M535.4,55.57h-2.6M327.5,48.48h2.6M535.4,48.48h-2.6M327.5,44.94h2.6M535.4,44.94h-2.6M327.5,41.39h2.6M535.4,41.39h-2.6M327.5,37.85h2.6M535.4,37.85h-2.6" stroke="#444" stroke-width="1" fill="none"/>
<rect x="327.5" y="34.3" width="207.90" height="124.10" stroke="#3a3a3a" stroke-width="1.1" fill="none"/>
<text x="327.50" y="175.2" text-anchor="middle" font-size="13">−400</text>
<text x="362.15" y="175.2" text-anchor="middle" font-size="13">−200</text>
<text x="398.30" y="175.2" text-anchor="middle" font-size="13">0</text>
<text x="432.95" y="175.2" text-anchor="middle" font-size="13">200</text>
<text x="467.60" y="175.2" text-anchor="middle" font-size="13">400</text>
<text x="502.25" y="175.2" text-anchor="middle" font-size="13">600</text>
<text x="536.90" y="175.2" text-anchor="middle" font-size="13">800</text>
<text x="325.5" y="162.79" text-anchor="end" font-size="13">−300</text>
<text x="325.5" y="145.07" text-anchor="end" font-size="13">−250</text>
<text x="325.5" y="127.34" text-anchor="end" font-size="13">−200</text>
<text x="325.5" y="109.61" text-anchor="end" font-size="13">−150</text>
<text x="325.5" y="91.88" text-anchor="end" font-size="13">−100</text>
<text x="325.5" y="74.15" text-anchor="end" font-size="13">−50</text>
<text x="325.5" y="56.42" text-anchor="end" font-size="13">0</text>
<text x="325.5" y="38.69" text-anchor="end" font-size="13">50</text>
<polyline points="327.50,52.84 327.85,52.91 328.19,52.87 328.54,52.78 328.89,52.67 329.23,52.54 329.58,52.38 329.93,52.25 330.27,52.17 330.62,52.13 330.96,52.09 331.31,52.10 331.66,52.22 332.00,52.41 332.35,52.53 332.70,52.47 333.04,52.22 333.39,51.85 333.74,51.48 334.08,51.20 334.43,51.08 334.78,51.15 335.12,51.37 335.47,51.62 335.82,51.77 336.16,51.77 336.51,51.67 336.86,51.59 337.20,51.60 337.55,51.73 337.89,51.97 338.24,52.26 338.59,52.51 338.93,52.56 339.28,52.36 339.63,52.00 339.97,51.67 340.32,51.45 340.67,51.37 341.01,51.36 341.36,51.37 341.71,51.37 342.05,51.36 342.40,51.35 342.75,51.27 343.09,51.12 343.44,51.02 343.79,51.08 344.13,51.29 344.48,51.52 344.82,51.64 345.17,51.60 345.52,51.45 345.86,51.29 346.21,51.25 346.56,51.42 346.90,51.80 347.25,52.22 347.60,52.55 347.94,52.71 348.29,52.73 348.64,52.70 348.98,52.67 349.33,52.63 349.68,52.56 350.02,52.47 350.37,52.44 350.72,52.51 351.06,52.70 351.41,52.95 351.75,53.21 352.10,53.42 352.45,53.49 352.79,53.39 353.14,53.16 353.49,52.82 353.83,52.42 354.18,52.01 354.53,51.66 354.87,51.41 355.22,51.25 355.57,51.17 355.91,51.18 356.26,51.29 356.61,51.45 356.95,51.57 357.30,51.62 357.65,51.64 357.99,51.75 358.34,52.01 358.69,52.34 359.03,52.61 359.38,52.75 359.72,52.78 360.07,52.68 360.42,52.37 360.76,51.86 361.11,51.31 361.46,50.97 361.80,50.96 362.15,51.21 362.50,51.51 362.84,51.73 363.19,51.88 363.54,52.03 363.88,52.23 364.23,52.47 364.58,52.67 364.92,52.74 365.27,52.66 365.62,52.49 365.96,52.33 366.31,52.24 366.65,52.23 367.00,52.29 367.35,52.39 367.69,52.50 368.04,52.51 368.39,52.29 368.73,51.78 369.08,51.09 369.43,50.45 369.77,50.03 370.12,49.87 370.47,49.83 370.81,49.78 371.16,49.70 371.51,49.60 371.85,49.57 372.20,49.63 372.55,49.74 372.89,49.86 373.24,49.95 373.58,50.02 373.93,50.11 374.28,50.20 374.62,50.39 374.97,51.20 375.32,52.48 375.66,53.96 376.01,55.35 376.36,56.28 376.70,56.32 377.05,55.43 377.40,53.87 377.74,51.97 378.09,50.06 378.44,48.37 378.78,47.14 379.13,46.66 379.48,49.32 379.82,54.75 380.17,62.02 380.51,69.67 380.86,76.83 381.21,85.34 381.55,94.28 381.90,102.15 382.25,107.90 382.59,113.26 382.94,118.01 383.29,121.43 383.63,122.78 383.98,122.04 384.33,120.17 384.67,117.81 385.02,115.67 385.37,113.91 385.71,112.22 386.06,110.54 386.40,108.84 386.75,107.10 387.10,105.35 387.44,103.60 387.79,101.82 388.14,99.97 388.48,97.99 388.83,95.86 389.18,93.64 389.52,91.40 389.87,89.20 390.22,87.04 390.56,84.89 390.91,82.74 391.26,80.65 391.60,78.70 391.95,76.91 392.30,75.20 392.64,73.52 392.99,71.84 393.33,70.17 393.68,68.55 394.03,67.04 394.37,65.66 394.72,64.43 395.07,63.35 395.41,62.37 395.76,61.43 396.11,60.51 396.45,59.58 396.80,58.62 397.15,57.65 397.49,56.74 397.84,55.98 398.19,55.42 398.53,55.04 398.88,54.72 399.23,54.37 399.57,53.98 399.92,53.62 400.26,53.31 400.61,52.45 400.96,52.39 401.30,52.40 401.65,52.39 402.00,52.32 402.34,52.23 402.69,52.18 403.04,52.20 403.38,52.33 403.73,52.54 404.08,52.70 404.42,52.71 404.77,52.66 405.12,52.67 405.46,52.73 405.81,52.68 406.16,52.48 406.50,52.29 406.85,52.46 407.19,53.01 407.54,53.74 407.89,54.37 408.23,54.72 408.58,54.81 408.93,54.77 409.27,54.70 409.62,54.67 409.97,54.83 410.31,55.14 410.66,55.46 411.01,55.60 411.35,55.48 411.70,55.18 412.05,54.90 412.39,54.74 412.74,54.62 413.09,54.39 413.43,54.03 413.78,53.63 414.12,53.41 414.47,53.40 414.82,53.56 415.16,53.77 415.51,53.94 415.86,54.08 416.20,54.24 416.55,54.40 416.90,54.52 417.24,54.54 417.59,54.42 417.94,54.16 418.28,53.79 418.63,53.43 418.98,53.19 419.32,52.99 419.67,52.72 420.02,52.39 420.36,52.17 420.71,52.25 421.06,52.61 421.40,53.08 421.75,53.45 422.09,53.57 422.44,53.50 422.79,53.37 423.13,53.32 423.48,53.31 423.83,53.26 424.17,53.16 424.52,53.07 424.87,53.02 425.21,53.02 425.56,53.07 425.91,53.15 426.25,53.20 426.60,53.18 426.95,53.10 427.29,53.03 427.64,52.97 427.99,52.87 428.33,52.77 428.68,52.71 429.02,52.71 429.37,52.69 429.72,52.63 430.06,52.59 430.41,52.67 430.76,52.87 431.10,53.04 431.45,53.00 431.80,52.71 432.14,52.39 432.49,52.27 432.84,52.45 433.18,52.76 433.53,52.97 433.88,52.95 434.22,52.78 434.57,52.66 434.91,52.72 435.26,52.91 435.61,53.10 435.95,53.21 436.30,53.25 436.65,53.25 436.99,53.21 437.34,53.08 437.69,52.89 438.03,52.68 438.38,52.52 438.73,52.40 439.07,52.32 439.42,52.35 439.77,52.50 440.11,52.75 440.46,52.97 440.81,53.00 441.15,52.70 441.50,52.12 441.85,51.48 442.19,51.01 442.54,50.81 442.88,50.82 443.23,50.96 443.58,51.21 443.92,51.61 444.27,52.14 444.62,52.66 444.96,52.99 445.31,53.01 445.66,52.81 446.00,52.58 446.35,52.47 446.70,52.49 447.04,52.57 447.39,52.65 447.74,52.69 448.08,52.67 448.43,52.61 448.77,52.50 449.12,52.34 449.47,52.16 449.81,52.00 450.16,51.89 450.51,51.88 450.85,51.98 451.20,52.19 451.55,52.40 451.89,52.50 452.24,52.43 452.59,52.30 452.93,52.22 453.28,52.27 453.63,52.41 453.97,52.54 454.32,52.55 454.67,52.40 455.01,52.13 455.36,51.85 455.70,51.65 456.05,51.56 456.40,51.54 456.74,51.52 457.09,51.50 457.44,51.51 457.78,51.58 458.13,51.68 458.48,51.78 458.82,51.86 459.17,51.87 459.52,51.81 459.86,51.77 460.21,51.84 460.56,52.12 460.90,52.54 461.25,52.95 461.60,53.17 461.94,53.08 462.29,52.71 462.63,52.22 462.98,51.75 463.33,51.36 463.67,51.11 464.02,51.06 464.37,51.27 464.71,51.67 465.06,52.05 465.41,52.26 465.75,52.25 466.10,52.14 466.45,52.07 466.79,52.08 467.14,52.16 467.49,52.27 467.83,52.39 468.18,52.53 468.53,52.67 468.87,52.74 469.22,52.65 469.56,52.36 469.91,51.96 470.26,51.62 470.60,51.42 470.95,51.35 471.30,51.38 471.64,51.47 471.99,51.60 472.34,51.72 472.68,51.78 473.03,51.76 473.38,51.70 473.72,51.63 474.07,51.51 474.42,51.32 474.76,51.12 475.11,51.04 475.46,51.25 475.80,51.70 476.15,52.22 476.50,52.59 476.84,52.74 477.19,52.69 477.53,52.54 477.88,52.36 478.23,52.15 478.57,51.86 478.92,51.48 479.27,51.12 479.61,50.95 479.96,51.08 480.31,51.42 480.65,51.78 481.00,52.06 481.35,52.23 481.69,52.35 482.04,52.44 482.39,52.53 482.73,52.60 483.08,52.68 483.42,52.76 483.77,52.81 484.12,52.76 484.46,52.55 484.81,52.29 485.16,52.09 485.50,52.03 485.85,52.08 486.20,52.22 486.54,52.45 486.89,52.74 487.24,52.98 487.58,53.03 487.93,52.83 488.28,52.41 488.62,51.88 488.97,51.36 489.32,50.97 489.66,50.82 490.01,50.90 490.36,51.17 490.70,51.51 491.05,51.83 491.39,52.11 491.74,52.32 492.09,52.46 492.43,52.48 492.78,52.37 493.13,52.18 493.47,52.01 493.82,51.94 494.17,51.98 494.51,52.06 494.86,52.09 495.21,52.07 495.55,52.07 495.90,52.20 496.25,52.46 496.59,52.76 496.94,53.01 497.28,53.21 497.63,53.40 497.98,53.54 498.32,53.53 498.67,53.27 499.02,52.79 499.36,52.24 499.71,51.75 500.06,51.43 500.40,51.32 500.75,51.40" stroke="#22aa44" stroke-width="1.0" fill="none" stroke-linejoin="round" opacity="0.9"/>
<polyline points="327.50,52.38 327.85,52.31 328.19,52.20 328.54,52.14 328.89,52.17 329.23,52.33 329.58,52.62 329.93,52.94 330.27,53.09 330.62,52.91 330.96,52.46 331.31,51.96 331.66,51.58 332.00,51.35 332.35,51.22 332.70,51.19 333.04,51.31 333.39,51.54 333.74,51.72 334.08,51.73 334.43,51.61 334.78,51.44 335.12,51.30 335.47,51.22 335.82,51.20 336.16,51.20 336.51,51.19 336.86,51.14 337.20,51.12 337.55,51.18 337.89,51.30 338.24,51.39 338.59,51.36 338.93,51.23 339.28,51.19 339.63,51.38 339.97,51.79 340.32,52.24 340.67,52.45 341.01,52.30 341.36,51.88 341.71,51.44 342.05,51.20 342.40,51.21 342.75,51.33 343.09,51.41 343.44,51.38 343.79,51.33 344.13,51.41 344.48,51.68 344.82,52.07 345.17,52.44 345.52,52.70 345.86,52.87 346.21,52.97 346.56,52.95 346.90,52.73 347.25,52.38 347.60,52.01 347.94,51.75 348.29,51.60 348.64,51.49 348.98,51.35 349.33,51.10 349.68,50.79 350.02,50.55 350.37,50.54 350.72,50.81 351.06,51.27 351.41,51.73 351.75,52.00 352.10,51.99 352.45,51.74 352.79,51.41 353.14,51.19 353.49,51.25 353.83,51.62 354.18,52.15 354.53,52.66 354.87,53.00 355.22,53.14 355.57,53.16 355.91,53.17 356.26,53.20 356.61,53.18 356.95,53.03 357.30,52.78 357.65,52.59 357.99,52.60 358.34,52.79 358.69,52.97 359.03,53.00 359.38,52.92 359.72,52.90 360.07,53.05 360.42,53.32 360.76,53.61 361.11,53.86 361.46,54.05 361.80,54.14 362.15,54.06 362.50,53.79 362.84,53.36 363.19,52.90 363.54,52.56 363.88,52.39 364.23,52.34 364.58,52.31 364.92,52.22 365.27,52.06 365.62,51.89 365.96,51.78 366.31,51.73 366.65,51.72 367.00,51.65 367.35,51.46 367.69,51.25 368.04,51.15 368.39,51.25 368.73,51.46 369.08,51.64 369.43,51.75 369.77,51.78 370.12,51.77 370.47,51.72 370.81,51.68 371.16,51.61 371.51,51.48 371.85,51.31 372.20,51.14 372.55,50.98 372.89,50.82 373.24,50.64 373.58,50.45 373.93,50.21 374.28,49.96 374.62,49.88 374.97,50.57 375.32,51.85 375.66,53.41 376.01,54.96 376.36,56.12 376.70,56.45 377.05,55.84 377.40,54.47 377.74,52.68 378.09,50.87 378.44,49.34 378.78,48.28 379.13,47.83 379.48,49.70 379.82,55.24 380.17,62.67 380.51,70.47 380.86,77.69 381.21,86.11 381.55,94.80 381.90,102.27 382.25,107.57 382.59,112.45 382.94,116.51 383.29,118.93 383.63,118.96 383.98,116.98 384.33,114.14 384.67,111.63 385.02,109.72 385.37,107.90 385.71,106.15 386.06,104.45 386.40,102.79 386.75,101.15 387.10,99.52 387.44,97.91 387.79,96.30 388.14,94.74 388.48,93.24 388.83,91.83 389.18,90.45 389.52,89.05 389.87,87.61 390.22,86.12 390.56,84.50 390.91,82.77 391.26,81.02 391.60,79.37 391.95,77.93 392.30,76.77 392.64,75.78 392.99,74.78 393.33,73.65 393.68,72.19 394.03,70.44 394.37,68.56 394.72,66.72 395.07,65.19 395.41,63.93 395.76,62.74 396.11,61.58 396.45,60.40 396.80,59.21 397.15,58.07 397.49,57.07 397.84,56.26 398.19,55.67 398.53,55.26 398.88,54.94 399.23,54.60 399.57,54.25 399.92,53.91 400.26,53.60 400.61,53.26 400.96,52.80 401.30,52.42 401.65,52.26 402.00,52.33 402.34,52.56 402.69,52.86 403.04,53.19 403.38,53.52 403.73,53.76 404.08,53.76 404.42,53.47 404.77,52.96 405.12,52.41 405.46,52.04 405.81,52.00 406.16,52.30 406.50,52.79 406.85,53.39 407.19,53.93 407.54,54.32 407.89,54.63 408.23,55.00 408.58,55.53 408.93,56.12 409.27,56.52 409.62,56.54 409.97,56.30 410.31,56.00 410.66,55.81 411.01,55.77 411.35,55.78 411.70,55.63 412.05,55.20 412.39,54.53 412.74,53.77 413.09,53.12 413.43,52.70 413.78,52.57 414.12,52.72 414.47,52.95 414.82,53.06 415.16,52.99 415.51,52.87 415.86,52.81 416.20,52.78 416.55,52.66 416.90,52.45 417.24,52.29 417.59,52.36 417.94,52.64 418.28,53.00 418.63,53.28 418.98,53.40 419.32,53.35 419.67,53.17 420.02,52.94 420.36,52.73 420.71,52.59 421.06,52.56 421.40,52.70 421.75,53.06 422.09,53.57 422.44,54.04 422.79,54.26 423.13,54.12 423.48,53.74 423.83,53.34 424.17,53.09 424.52,53.00 424.87,52.98 425.21,52.95 425.56,52.86 425.91,52.66 426.25,52.30 426.60,51.81 426.95,51.36 427.29,51.11 427.64,51.11 427.99,51.29 428.33,51.54 428.68,51.81 429.02,52.05 429.37,52.18 429.72,52.13 430.06,52.01 430.41,52.01 430.76,52.27 431.10,52.68 431.45,53.05 431.80,53.29 432.14,53.43 432.49,53.53 432.84,53.57 433.18,53.50 433.53,53.32 433.88,53.13 434.22,52.99 434.57,52.88 434.91,52.74 435.26,52.62 435.61,52.61 435.95,52.68 436.30,52.74 436.65,52.71 436.99,52.56 437.34,52.36 437.69,52.14 438.03,51.94 438.38,51.80 438.73,51.76 439.07,51.84 439.42,52.01 439.77,52.24 440.11,52.53 440.46,52.84 440.81,53.10 441.15,53.16 441.50,52.95 441.85,52.51 442.19,51.98 442.54,51.51 442.88,51.21 443.23,51.14 443.58,51.31 443.92,51.65 444.27,52.02 444.62,52.18 444.96,52.00 445.31,51.52 445.66,51.00 446.00,50.74 446.35,50.85 446.70,51.19 447.04,51.51 447.39,51.65 447.74,51.63 448.08,51.48 448.43,51.25 448.77,50.97 449.12,50.82 449.47,50.95 449.81,51.39 450.16,51.98 450.51,52.49 450.85,52.71 451.20,52.63 451.55,52.34 451.89,52.07 452.24,51.99 452.59,52.18 452.93,52.57 453.28,52.95 453.63,53.20 453.97,53.27 454.32,53.24 454.67,53.16 455.01,53.06 455.36,52.93 455.70,52.76 456.05,52.55 456.40,52.31 456.74,52.05 457.09,51.77 457.44,51.50 457.78,51.32 458.13,51.31 458.48,51.42 458.82,51.60 459.17,51.80 459.52,51.96 459.86,52.05 460.21,52.09 460.56,52.18 460.90,52.41 461.25,52.76 461.60,53.05 461.94,53.04 462.29,52.66 462.63,52.02 462.98,51.39 463.33,51.02 463.67,51.03 464.02,51.42 464.37,51.95 464.71,52.32 465.06,52.36 465.41,52.11 465.75,51.79 466.10,51.60 466.45,51.63 466.79,51.81 467.14,51.97 467.49,51.96 467.83,51.82 468.18,51.71 468.53,51.72 468.87,51.79 469.22,51.85 469.56,51.90 469.91,51.96 470.26,51.99 470.60,51.92 470.95,51.77 471.30,51.64 471.64,51.63 471.99,51.77 472.34,52.05 472.68,52.39 473.03,52.64 473.38,52.69 473.72,52.57 474.07,52.42 474.42,52.30 474.76,52.20 475.11,52.11 475.46,52.08 475.80,52.19 476.15,52.45 476.50,52.79 476.84,53.09 477.19,53.18 477.53,53.01 477.88,52.68 478.23,52.31 478.57,51.96 478.92,51.67 479.27,51.53 479.61,51.61 479.96,51.86 480.31,52.11 480.65,52.15 481.00,51.95 481.35,51.58 481.69,51.21 482.04,51.01 482.39,51.10 482.73,51.49 483.08,52.09 483.42,52.69 483.77,53.06 484.12,53.02 484.46,52.54 484.81,51.80 485.16,51.09 485.50,50.69 485.85,50.68 486.20,51.01 486.54,51.52 486.89,52.01 487.24,52.32 487.58,52.37 487.93,52.26 488.28,52.10 488.62,51.97 488.97,51.86 489.32,51.82 489.66,51.94 490.01,52.20 490.36,52.42 490.70,52.40 491.05,52.15 491.39,51.88 491.74,51.81 492.09,51.98 492.43,52.26 492.78,52.49 493.13,52.63 493.47,52.73 493.82,52.79 494.17,52.72 494.51,52.45 494.86,52.07 495.21,51.76 495.55,51.59 495.90,51.56 496.25,51.63 496.59,51.81 496.94,52.10 497.28,52.44 497.63,52.70 497.98,52.72 498.32,52.39 498.67,51.81 499.02,51.23 499.36,50.98 499.71,51.18 500.06,51.71 500.40,52.26 500.75,52.54" stroke="#111111" stroke-width="1.0" fill="none" stroke-linejoin="round" opacity="0.9"/>
<polyline points="327.50,52.09 327.85,52.13 328.19,52.25 328.54,52.47 328.89,52.70 329.23,52.80 329.58,52.70 329.93,52.47 330.27,52.17 330.62,51.83 330.96,51.51 331.31,51.26 331.66,51.17 332.00,51.25 332.35,51.45 332.70,51.68 333.04,51.83 333.39,51.87 333.74,51.84 334.08,51.80 334.43,51.76 334.78,51.73 335.12,51.71 335.47,51.71 335.82,51.69 336.16,51.59 336.51,51.38 336.86,51.13 337.20,50.92 337.55,50.85 337.89,50.98 338.24,51.25 338.59,51.50 338.93,51.59 339.28,51.58 339.63,51.59 339.97,51.69 340.32,51.77 340.67,51.72 341.01,51.56 341.36,51.42 341.71,51.38 342.05,51.40 342.40,51.39 342.75,51.30 343.09,51.16 343.44,51.05 343.79,51.02 344.13,51.09 344.48,51.26 344.82,51.52 345.17,51.85 345.52,52.14 345.86,52.30 346.21,52.28 346.56,52.10 346.90,51.88 347.25,51.76 347.60,51.80 347.94,51.94 348.29,52.03 348.64,51.94 348.98,51.69 349.33,51.43 349.68,51.31 350.02,51.38 350.37,51.58 350.72,51.84 351.06,52.15 351.41,52.49 351.75,52.76 352.10,52.82 352.45,52.64 352.79,52.31 353.14,52.02 353.49,51.86 353.83,51.81 354.18,51.85 354.53,51.93 354.87,52.08 355.22,52.30 355.57,52.54 355.91,52.74 356.26,52.83 356.61,52.78 356.95,52.62 357.30,52.40 357.65,52.16 357.99,51.98 358.34,51.95 358.69,52.10 359.03,52.44 359.38,52.91 359.72,53.42 360.07,53.84 360.42,54.03 360.76,53.96 361.11,53.67 361.46,53.28 361.80,52.88 362.15,52.55 362.50,52.35 362.84,52.33 363.19,52.47 363.54,52.69 363.88,52.85 364.23,52.90 364.58,52.85 364.92,52.77 365.27,52.70 365.62,52.68 365.96,52.71 366.31,52.76 366.65,52.73 367.00,52.55 367.35,52.23 367.69,51.87 368.04,51.60 368.39,51.48 368.73,51.48 369.08,51.44 369.43,51.23 369.77,50.89 370.12,50.57 370.47,50.44 370.81,50.57 371.16,50.92 371.51,51.31 371.85,51.60 372.20,51.68 372.55,51.56 372.89,51.32 373.24,51.09 373.58,50.88 373.93,50.61 374.28,50.12 374.62,49.55 374.97,49.66 375.32,50.59 375.66,52.24 376.01,54.22 376.36,55.87 376.70,56.49 377.05,55.98 377.40,54.62 377.74,52.79 378.09,50.83 378.44,49.08 378.78,47.91 379.13,47.64 379.48,49.88 379.82,55.86 380.17,63.84 380.51,72.28 380.86,80.26 381.21,89.65 381.55,99.61 381.90,108.71 382.25,116.74 382.59,124.23 382.94,130.83 383.29,136.52 383.63,142.39 383.98,147.56 384.33,150.76 384.67,150.89 385.02,148.51 385.37,144.48 385.71,139.57 386.06,134.54 386.40,130.13 386.75,126.91 387.10,124.15 387.44,121.60 387.79,119.15 388.14,116.76 388.48,114.39 388.83,112.02 389.18,109.57 389.52,106.95 389.87,104.07 390.22,100.76 390.56,96.59 390.91,91.95 391.26,87.35 391.60,83.30 391.95,80.29 392.30,78.03 392.64,75.90 392.99,73.92 393.33,72.12 393.68,70.54 394.03,69.14 394.37,67.86 394.72,66.65 395.07,65.46 395.41,64.27 395.76,63.08 396.11,61.90 396.45,60.76 396.80,59.68 397.15,58.72 397.49,57.91 397.84,57.23 398.19,56.66 398.53,56.15 398.88,55.69 399.23,55.22 399.57,54.75 399.92,54.31 400.26,53.92 400.61,53.93 400.96,53.56 401.30,53.13 401.65,52.61 402.00,52.10 402.34,51.77 402.69,51.70 403.04,51.82 403.38,52.01 403.73,52.15 404.08,52.22 404.42,52.17 404.77,51.99 405.12,51.64 405.46,51.27 405.81,51.14 406.16,51.43 406.50,52.07 406.85,52.95 407.19,53.76 407.54,54.40 407.89,54.98 408.23,55.69 408.58,56.56 408.93,57.39 409.27,57.93 409.62,58.05 409.97,57.93 410.31,57.69 410.66,57.40 411.01,57.06 411.35,56.58 411.70,55.96 412.05,55.23 412.39,54.46 412.74,53.69 413.09,53.06 413.43,52.72 413.78,52.68 414.12,52.80 414.47,52.87 414.82,52.90 415.16,52.93 415.51,52.95 415.86,52.99 416.20,53.11 416.55,53.31 416.90,53.52 417.24,53.63 417.59,53.56 417.94,53.35 418.28,53.07 418.63,52.77 418.98,52.50 419.32,52.34 419.67,52.32 420.02,52.43 420.36,52.57 420.71,52.64 421.06,52.53 421.40,52.22 421.75,51.83 422.09,51.57 422.44,51.62 422.79,51.93 423.13,52.28 423.48,52.48 423.83,52.51 424.17,52.52 424.52,52.57 424.87,52.65 425.21,52.72 425.56,52.79 425.91,52.83 426.25,52.83 426.60,52.77 426.95,52.70 427.29,52.63 427.64,52.58 427.99,52.56 428.33,52.62 428.68,52.76 429.02,52.91 429.37,52.96 429.72,52.94 430.06,52.89 430.41,52.85 430.76,52.75 431.10,52.57 431.45,52.42 431.80,52.38 432.14,52.46 432.49,52.56 432.84,52.59 433.18,52.43 433.53,52.04 433.88,51.53 434.22,51.05 434.57,50.73 434.91,50.61 435.26,50.67 435.61,50.86 435.95,51.17 436.30,51.54 436.65,51.91 436.99,52.18 437.34,52.31 437.69,52.30 438.03,52.16 438.38,51.91 438.73,51.58 439.07,51.29 439.42,51.18 439.77,51.37 440.11,51.83 440.46,52.34 440.81,52.66 441.15,52.67 441.50,52.48 441.85,52.31 442.19,52.34 442.54,52.58 442.88,52.86 443.23,53.00 443.58,52.92 443.92,52.68 444.27,52.42 444.62,52.30 444.96,52.35 445.31,52.43 445.66,52.40 446.00,52.27 446.35,52.22 446.70,52.33 447.04,52.53 447.39,52.63 447.74,52.53 448.08,52.25 448.43,51.93 448.77,51.68 449.12,51.55 449.47,51.48 449.81,51.45 450.16,51.48 450.51,51.63 450.85,51.87 451.20,52.12 451.55,52.28 451.89,52.30 452.24,52.20 452.59,52.09 452.93,52.04 453.28,52.05 453.63,52.09 453.97,52.14 454.32,52.17 454.67,52.11 455.01,51.90 455.36,51.58 455.70,51.24 456.05,50.96 456.40,50.79 456.74,50.74 457.09,50.87 457.44,51.18 457.78,51.56 458.13,51.87 458.48,52.02 458.82,52.10 459.17,52.27 459.52,52.62 459.86,53.05 460.21,53.36 460.56,53.36 460.90,53.10 461.25,52.80 461.60,52.71 461.94,52.89 462.29,53.15 462.63,53.22 462.98,52.99 463.33,52.55 463.67,52.07 464.02,51.72 464.37,51.55 464.71,51.55 465.06,51.68 465.41,51.85 465.75,51.98 466.10,52.00 466.45,51.95 466.79,51.89 467.14,51.90 467.49,52.00 467.83,52.20 468.18,52.53 468.53,53.01 468.87,53.54 469.22,53.97 469.56,54.09 469.91,53.85 470.26,53.30 470.60,52.63 470.95,52.01 471.30,51.51 471.64,51.18 471.99,51.06 472.34,51.18 472.68,51.53 473.03,52.04 473.38,52.57 473.72,52.96 474.07,53.05 474.42,52.83 474.76,52.42 475.11,52.06 475.46,51.93 475.80,52.04 476.15,52.25 476.50,52.43 476.84,52.56 477.19,52.65 477.53,52.71 477.88,52.76 478.23,52.82 478.57,52.85 478.92,52.80 479.27,52.61 479.61,52.31 479.96,51.99 480.31,51.75 480.65,51.66 481.00,51.73 481.35,51.87 481.69,51.94 482.04,51.85 482.39,51.66 482.73,51.46 483.08,51.25 483.42,51.01 483.77,50.72 484.12,50.51 484.46,50.51 484.81,50.75 485.16,51.12 485.50,51.48 485.85,51.78 486.20,52.05 486.54,52.36 486.89,52.78 487.24,53.27 487.58,53.66 487.93,53.73 488.28,53.40 488.62,52.78 488.97,52.11 489.32,51.65 489.66,51.55 490.01,51.70 490.36,51.92 490.70,52.05 491.05,52.03 491.39,51.93 491.74,51.83 492.09,51.76 492.43,51.66 492.78,51.46 493.13,51.16 493.47,50.87 493.82,50.74 494.17,50.85 494.51,51.13 494.86,51.49 495.21,51.84 495.55,52.09 495.90,52.18 496.25,52.11 496.59,51.90 496.94,51.67 497.28,51.53 497.63,51.54 497.98,51.67 498.32,51.90 498.67,52.20 499.02,52.60 499.36,53.01 499.71,53.28 500.06,53.26 500.40,52.96 500.75,52.54" stroke="#ff2020" stroke-width="1.0" fill="none" stroke-linejoin="round" opacity="0.9"/>
<polyline points="327.50,52.04 327.85,52.28 328.19,52.59 328.54,52.79 328.89,52.74 329.23,52.46 329.58,52.11 329.93,51.79 330.27,51.55 330.62,51.43 330.96,51.50 331.31,51.77 331.66,52.10 332.00,52.35 332.35,52.42 332.70,52.34 333.04,52.17 333.39,51.99 333.74,51.86 334.08,51.85 334.43,52.02 334.78,52.31 335.12,52.59 335.47,52.68 335.82,52.52 336.16,52.22 336.51,51.99 336.86,51.98 337.20,52.10 337.55,52.19 337.89,52.14 338.24,52.05 338.59,52.08 338.93,52.34 339.28,52.72 339.63,53.00 339.97,52.96 340.32,52.62 340.67,52.23 341.01,51.98 341.36,51.94 341.71,52.00 342.05,52.04 342.40,51.97 342.75,51.76 343.09,51.48 343.44,51.28 343.79,51.25 344.13,51.40 344.48,51.60 344.82,51.75 345.17,51.83 345.52,51.88 345.86,51.95 346.21,52.03 346.56,52.09 346.90,52.07 347.25,51.98 347.60,51.85 347.94,51.77 348.29,51.81 348.64,51.91 348.98,51.93 349.33,51.79 349.68,51.52 350.02,51.23 350.37,50.99 350.72,50.85 351.06,50.84 351.41,50.99 351.75,51.20 352.10,51.35 352.45,51.40 352.79,51.45 353.14,51.66 353.49,52.04 353.83,52.46 354.18,52.72 354.53,52.67 354.87,52.35 355.22,52.00 355.57,51.85 355.91,51.94 356.26,52.11 356.61,52.23 356.95,52.34 357.30,52.56 357.65,52.82 357.99,52.99 358.34,53.01 358.69,53.04 359.03,53.19 359.38,53.39 359.72,53.49 360.07,53.49 360.42,53.50 360.76,53.54 361.11,53.50 361.46,53.31 361.80,52.99 362.15,52.65 362.50,52.36 362.84,52.15 363.19,52.07 363.54,52.08 363.88,52.08 364.23,52.02 364.58,51.89 364.92,51.80 365.27,51.88 365.62,52.18 365.96,52.57 366.31,52.84 366.65,52.87 367.00,52.76 367.35,52.71 367.69,52.82 368.04,53.05 368.39,53.26 368.73,53.37 369.08,53.38 369.43,53.31 369.77,53.14 370.12,52.87 370.47,52.56 370.81,52.30 371.16,52.10 371.51,51.84 371.85,51.41 372.20,50.82 372.55,50.20 372.89,49.75 373.24,49.58 373.58,49.61 373.93,49.70 374.28,49.74 374.62,49.83 374.97,50.60 375.32,51.97 375.66,53.64 376.01,55.17 376.36,56.09 376.70,56.00 377.05,55.02 377.40,53.63 377.74,52.20 378.09,50.90 378.44,49.77 378.78,48.90 379.13,48.45 379.48,49.87 379.82,55.45 380.17,63.07 380.51,71.33 380.86,79.37 381.21,89.13 381.55,99.41 381.90,108.43 382.25,116.12 382.59,123.26 382.94,129.32 383.29,134.03 383.63,138.41 383.98,141.73 384.33,143.04 384.67,141.95 385.02,139.19 385.37,135.35 385.71,131.03 386.06,126.81 386.40,123.32 386.75,120.53 387.10,117.94 387.44,115.56 387.79,113.38 388.14,111.32 388.48,109.29 388.83,107.18 389.18,104.95 389.52,102.51 389.87,99.82 390.22,96.55 390.56,92.69 390.91,88.59 391.26,84.62 391.60,81.12 391.95,78.44 392.30,76.38 392.64,74.47 392.99,72.66 393.33,70.95 393.68,69.39 394.03,68.02 394.37,66.80 394.72,65.69 395.07,64.67 395.41,63.67 395.76,62.65 396.11,61.59 396.45,60.51 396.80,59.46 397.15,58.50 397.49,57.62 397.84,56.79 398.19,56.04 398.53,55.40 398.88,54.91 399.23,54.48 399.57,54.06 399.92,53.65 400.26,53.28 400.61,52.91 400.96,52.87 401.30,52.94 401.65,52.99 402.00,52.93 402.34,52.73 402.69,52.40 403.04,52.00 403.38,51.64 403.73,51.44 404.08,51.37 404.42,51.31 404.77,51.18 405.12,51.01 405.46,50.95 405.81,51.03 406.16,51.18 406.50,51.31 406.85,51.64 407.19,52.23 407.54,53.04 407.89,53.97 408.23,54.82 408.58,55.40 408.93,55.59 409.27,55.43 409.62,55.10 409.97,54.98 410.31,55.15 410.66,55.46 411.01,55.70 411.35,55.76 411.70,55.66 412.05,55.47 412.39,55.22 412.74,54.87 413.09,54.41 413.43,53.85 413.78,53.26 414.12,52.72 414.47,52.24 414.82,51.85 415.16,51.56 415.51,51.41 415.86,51.45 416.20,51.65 416.55,51.91 416.90,52.10 417.24,52.22 417.59,52.41 417.94,52.71 418.28,53.07 418.63,53.35 418.98,53.45 419.32,53.39 419.67,53.28 420.02,53.19 420.36,53.14 420.71,53.10 421.06,53.03 421.40,52.96 421.75,52.88 422.09,52.78 422.44,52.72 422.79,52.73 423.13,52.82 423.48,52.96 423.83,53.02 424.17,52.93 424.52,52.63 424.87,52.20 425.21,51.79 425.56,51.58 425.91,51.63 426.25,51.82 426.60,51.96 426.95,51.93 427.29,51.79 427.64,51.66 427.99,51.62 428.33,51.72 428.68,51.93 429.02,52.16 429.37,52.31 429.72,52.31 430.06,52.19 430.41,52.02 430.76,51.90 431.10,51.92 431.45,52.07 431.80,52.26 432.14,52.39 432.49,52.42 432.84,52.37 433.18,52.28 433.53,52.22 433.88,52.25 434.22,52.38 434.57,52.55 434.91,52.58 435.26,52.40 435.61,52.06 435.95,51.72 436.30,51.58 436.65,51.78 436.99,52.28 437.34,52.86 437.69,53.26 438.03,53.31 438.38,53.04 438.73,52.61 439.07,52.15 439.42,51.77 439.77,51.55 440.11,51.51 440.46,51.61 440.81,51.75 441.15,51.83 441.50,51.80 441.85,51.66 442.19,51.48 442.54,51.36 442.88,51.35 443.23,51.44 443.58,51.59 443.92,51.78 444.27,52.02 444.62,52.33 444.96,52.62 445.31,52.76 445.66,52.62 446.00,52.19 446.35,51.65 446.70,51.24 447.04,51.10 447.39,51.25 447.74,51.55 448.08,51.87 448.43,52.10 448.77,52.23 449.12,52.26 449.47,52.22 449.81,52.09 450.16,51.89 450.51,51.68 450.85,51.60 451.20,51.74 451.55,52.04 451.89,52.31 452.24,52.42 452.59,52.34 452.93,52.12 453.28,51.84 453.63,51.56 453.97,51.39 454.32,51.42 454.67,51.64 455.01,51.89 455.36,51.97 455.70,51.80 456.05,51.54 456.40,51.46 456.74,51.72 457.09,52.22 457.44,52.71 457.78,53.02 458.13,53.13 458.48,53.15 458.82,53.14 459.17,53.12 459.52,53.15 459.86,53.22 460.21,53.20 460.56,52.97 460.90,52.48 461.25,51.93 461.60,51.56 461.94,51.54 462.29,51.84 462.63,52.25 462.98,52.52 463.33,52.59 463.67,52.52 464.02,52.42 464.37,52.31 464.71,52.24 465.06,52.30 465.41,52.53 465.75,52.79 466.10,52.91 466.45,52.75 466.79,52.32 467.14,51.74 467.49,51.24 467.83,51.06 468.18,51.27 468.53,51.69 468.87,52.05 469.22,52.21 469.56,52.21 469.91,52.17 470.26,52.15 470.60,52.11 470.95,52.01 471.30,51.84 471.64,51.69 471.99,51.57 472.34,51.54 472.68,51.69 473.03,52.07 473.38,52.61 473.72,53.07 474.07,53.32 474.42,53.34 474.76,53.27 475.11,53.27 475.46,53.40 475.80,53.60 476.15,53.65 476.50,53.38 476.84,52.81 477.19,52.14 477.53,51.60 477.88,51.33 478.23,51.33 478.57,51.51 478.92,51.84 479.27,52.19 479.61,52.42 479.96,52.42 480.31,52.30 480.65,52.26 481.00,52.38 481.35,52.59 481.69,52.81 482.04,52.98 482.39,53.08 482.73,53.06 483.08,52.87 483.42,52.54 483.77,52.18 484.12,51.90 484.46,51.77 484.81,51.77 485.16,51.77 485.50,51.68 485.85,51.47 486.20,51.24 486.54,51.11 486.89,51.09 487.24,51.08 487.58,51.03 487.93,50.96 488.28,50.91 488.62,50.94 488.97,51.09 489.32,51.36 489.66,51.69 490.01,51.99 490.36,52.21 490.70,52.36 491.05,52.42 491.39,52.32 491.74,52.02 492.09,51.65 492.43,51.39 492.78,51.29 493.13,51.29 493.47,51.35 493.82,51.48 494.17,51.71 494.51,51.98 494.86,52.14 495.21,52.13 495.55,52.00 495.90,51.89 496.25,51.87 496.59,51.89 496.94,51.80 497.28,51.60 497.63,51.43 497.98,51.47 498.32,51.74 498.67,52.13 499.02,52.45 499.36,52.58 499.71,52.51 500.06,52.28 500.40,52.02 500.75,51.85" stroke="#1a1aff" stroke-width="1.0" fill="none" stroke-linejoin="round" opacity="0.9"/>
<text x="420.2" y="17.8" text-anchor="middle" font-size="20.3">(b) LPFed waveforms</text>
<text x="431.35" y="195.2" text-anchor="middle" font-size="17.4">Time [nsec]</text>
<text transform="translate(293.6,97.5) rotate(-90)" text-anchor="middle" font-size="17.4">LPFed Voltage [mV]</text>
<text x="506.1" y="125.2" text-anchor="end" font-size="8.7" stroke-width="0.1">X+</text>
<line x1="509.9" y1="122.7" x2="529.1" y2="122.7" stroke="#33bb66" stroke-width="1.1"/>
<text x="506.1" y="133.6" text-anchor="end" font-size="8.7" stroke-width="0.1">X-</text>
<line x1="509.9" y1="132.4" x2="529.1" y2="132.4" stroke="#333333" stroke-width="1.1"/>
<text x="506.1" y="144.8" text-anchor="end" font-size="8.7" stroke-width="0.1">Y+</text>
<line x1="509.9" y1="142.4" x2="529.1" y2="142.4" stroke="#ff4444" stroke-width="1.1"/>
<text x="506.1" y="153.4" text-anchor="end" font-size="8.7" stroke-width="0.1">Y-</text>
<line x1="509.9" y1="152.1" x2="529.1" y2="152.1" stroke="#5555ff" stroke-width="1.1"/>
<path d="M222.94,256.2V380.3M248.38,256.2V380.3M273.81,256.2V380.3M299.25,256.2V380.3M324.69,256.2V380.3M350.12,256.2V380.3M375.56,256.2V380.3M197.5,359.20H401M197.5,339.00H401M197.5,318.80H401M197.5,298.60H401M197.5,278.40H401M197.5,258.20H401" stroke="#f2f2f2" stroke-width="1" stroke-dasharray="2,1" fill="none"/>
<path d="M197.50,380.3v-5M197.50,256.2v5M222.94,380.3v-5M222.94,256.2v5M248.38,380.3v-5M248.38,256.2v5M273.81,380.3v-5M273.81,256.2v5M299.25,380.3v-5M299.25,256.2v5M324.69,380.3v-5M324.69,256.2v5M350.12,380.3v-5M350.12,256.2v5M375.56,380.3v-5M375.56,256.2v5M401.00,380.3v-5M401.00,256.2v5M202.59,380.3v-2.6M202.59,256.2v2.6M207.68,380.3v-2.6M207.68,256.2v2.6M212.76,380.3v-2.6M212.76,256.2v2.6M217.85,380.3v-2.6M217.85,256.2v2.6M228.03,380.3v-2.6M228.03,256.2v2.6M233.11,380.3v-2.6M233.11,256.2v2.6M238.20,380.3v-2.6M238.20,256.2v2.6M243.29,380.3v-2.6M243.29,256.2v2.6M253.46,380.3v-2.6M253.46,256.2v2.6M258.55,380.3v-2.6M258.55,256.2v2.6M263.64,380.3v-2.6M263.64,256.2v2.6M268.73,380.3v-2.6M268.73,256.2v2.6M278.90,380.3v-2.6M278.90,256.2v2.6M283.99,380.3v-2.6M283.99,256.2v2.6M289.07,380.3v-2.6M289.07,256.2v2.6M294.16,380.3v-2.6M294.16,256.2v2.6M304.34,380.3v-2.6M304.34,256.2v2.6M309.43,380.3v-2.6M309.43,256.2v2.6M314.51,380.3v-2.6M314.51,256.2v2.6M319.60,380.3v-2.6M319.60,256.2v2.6M329.77,380.3v-2.6M329.77,256.2v2.6M334.86,380.3v-2.6M334.86,256.2v2.6M339.95,380.3v-2.6M339.95,256.2v2.6M345.04,380.3v-2.6M345.04,256.2v2.6M355.21,380.3v-2.6M355.21,256.2v2.6M360.30,380.3v-2.6M360.30,256.2v2.6M365.39,380.3v-2.6M365.39,256.2v2.6M370.48,380.3v-2.6M370.48,256.2v2.6M380.65,380.3v-2.6M380.65,256.2v2.6M385.74,380.3v-2.6M385.74,256.2v2.6M390.82,380.3v-2.6M390.82,256.2v2.6M395.91,380.3v-2.6M395.91,256.2v2.6M197.5,379.40h5M401,379.40h-5M197.5,359.20h5M401,359.20h-5M197.5,339.00h5M401,339.00h-5M197.5,318.80h5M401,318.80h-5M197.5,298.60h5M401,298.60h-5M197.5,278.40h5M401,278.40h-5M197.5,258.20h5M401,258.20h-5M197.5,375.36h2.6M401,375.36h-2.6M197.5,371.32h2.6M401,371.32h-2.6M197.5,367.28h2.6M401,367.28h-2.6M197.5,363.24h2.6M401,363.24h-2.6M197.5,355.16h2.6M401,355.16h-2.6M197.5,351.12h2.6M401,351.12h-2.6M197.5,347.08h2.6M401,347.08h-2.6M197.5,343.04h2.6M401,343.04h-2.6M197.5,334.96h2.6M401,334.96h-2.6M197.5,330.92h2.6M401,330.92h-2.6M197.5,326.88h2.6M401,326.88h-2.6M197.5,322.84h2.6M401,322.84h-2.6M197.5,314.76h2.6M401,314.76h-2.6M197.5,310.72h2.6M401,310.72h-2.6M197.5,306.68h2.6M401,306.68h-2.6M197.5,302.64h2.6M401,302.64h-2.6M197.5,294.56h2.6M401,294.56h-2.6M197.5,290.52h2.6M401,290.52h-2.6M197.5,286.48h2.6M401,286.48h-2.6M197.5,282.44h2.6M401,282.44h-2.6M197.5,274.36h2.6M401,274.36h-2.6M197.5,270.32h2.6M401,270.32h-2.6M197.5,266.28h2.6M401,266.28h-2.6M197.5,262.24h2.6M401,262.24h-2.6" stroke="#444" stroke-width="1" fill="none"/>
<rect x="197.5" y="256.2" width="203.50" height="124.10" stroke="#3a3a3a" stroke-width="1.1" fill="none"/>
<text x="199.00" y="396.8" text-anchor="middle" font-size="13">0</text>
<text x="224.44" y="396.8" text-anchor="middle" font-size="13">25</text>
<text x="249.88" y="396.8" text-anchor="middle" font-size="13">50</text>
<text x="275.31" y="396.8" text-anchor="middle" font-size="13">75</text>
<text x="300.75" y="396.8" text-anchor="middle" font-size="13">100</text>
<text x="326.19" y="396.8" text-anchor="middle" font-size="13">125</text>
<text x="351.62" y="396.8" text-anchor="middle" font-size="13">150</text>
<text x="377.06" y="396.8" text-anchor="middle" font-size="13">175</text>
<text x="402.50" y="396.8" text-anchor="middle" font-size="13">200</text>
<text x="195.8" y="383.79" text-anchor="end" font-size="13">−8000</text>
<text x="195.8" y="363.59" text-anchor="end" font-size="13">−6000</text>
<text x="195.8" y="343.39" text-anchor="end" font-size="13">−4000</text>
<text x="195.8" y="323.19" text-anchor="end" font-size="13">−2000</text>
<text x="195.8" y="302.99" text-anchor="end" font-size="13">0</text>
<text x="195.8" y="282.79" text-anchor="end" font-size="13">2000</text>
<text x="195.8" y="262.59" text-anchor="end" font-size="13">4000</text>
<polyline points="197.50,353.46 197.70,291.32 197.91,277.56 198.11,267.13 198.31,261.61 198.52,261.82 198.72,267.74 198.92,278.31 199.13,291.71 199.33,309.99 199.53,330.49 199.74,346.10 199.94,354.43 200.15,354.19 200.35,345.30 200.55,329.25 200.76,308.70 200.96,292.52 201.16,282.50 201.37,275.28 201.57,271.74 201.77,272.26 201.98,276.74 202.18,284.43 202.38,294.11 202.59,309.02 202.79,325.37 202.99,337.02 203.20,342.43 203.40,341.08 203.60,333.35 203.81,320.69 204.01,305.22 204.22,293.00 204.42,284.39 204.62,278.05 204.83,274.89 205.03,275.38 205.23,279.39 205.44,286.29 205.64,295.01 205.84,306.36 206.05,317.33 206.25,324.89 206.45,328.08 206.66,326.68 206.86,321.12 207.06,312.51 207.27,302.34 207.47,292.91 207.68,284.88 207.88,279.03 208.08,276.23 208.29,276.90 208.49,280.89 208.69,287.52 208.90,295.71 209.10,303.47 209.30,309.69 209.51,313.85 209.71,315.51 209.91,314.56 210.12,311.29 210.32,306.31 210.52,300.46 210.73,293.59 210.93,287.28 211.13,282.92 211.34,281.08 211.54,281.96 211.75,285.31 211.95,290.54 212.15,296.77 212.36,301.87 212.56,305.82 212.76,308.53 212.97,309.66 213.17,309.10 213.37,306.99 213.58,303.67 213.78,299.68 213.98,294.93 214.19,290.73 214.39,287.95 214.59,286.91 214.80,287.70 215.00,290.10 215.20,293.62 215.41,297.65 215.61,301.42 215.81,304.62 216.02,306.82 216.22,307.71 216.43,307.17 216.63,305.33 216.83,302.55 217.04,299.30 217.24,296.46 217.44,294.18 217.65,292.62 217.85,291.96 218.05,292.26 218.26,293.53 218.46,295.57 218.66,298.10 218.87,300.59 219.07,302.65 219.27,304.07 219.48,304.66 219.68,304.36 219.88,303.18 220.09,301.29 220.29,298.99 220.50,296.24 220.70,293.73 220.90,291.95 221.11,291.17 221.31,291.54 221.51,292.99 221.72,295.32 221.92,298.19 222.12,300.70 222.33,302.83 222.53,304.33 222.73,304.96 222.94,304.61 223.14,303.34 223.34,301.31 223.55,298.85 223.75,295.87 223.96,293.28 224.16,291.53 224.36,290.83 224.57,291.30 224.77,292.89 224.97,295.34 225.18,298.26 225.38,300.87 225.58,303.16 225.79,304.78 225.99,305.42 226.19,304.92 226.40,303.35 226.60,301.03 226.80,298.49 227.01,295.97 227.21,293.93 227.41,292.49 227.62,291.89 227.82,292.36 228.03,293.80" stroke="#22aa44" stroke-width="0.5" fill="none" stroke-linejoin="round" opacity="0.35"/>
<polyline points="228.03,293.80 228.23,295.83 228.43,298.10 228.64,300.17 228.84,301.98 229.04,303.24 229.25,303.71 229.45,303.33 229.65,302.25 229.86,300.75 230.06,299.05 230.26,297.33 230.47,295.93 230.67,295.08 230.87,294.85 231.08,295.27 231.28,296.19 231.48,297.37 231.69,298.67 231.89,299.93 232.09,300.73 232.30,300.74 232.50,300.11 232.71,299.38 232.91,298.91 233.11,298.49 233.32,297.88 233.52,297.08 233.72,296.39 233.93,296.15 234.13,296.43 234.33,296.97 234.54,297.52 234.74,298.02 234.94,298.50 235.15,298.93 235.35,299.36 235.55,299.92 235.76,300.34 235.96,300.14 236.16,299.37 236.37,298.53 236.57,297.91 236.78,297.46 236.98,297.10 237.18,296.81 237.39,296.60 237.59,296.62 237.79,297.04 238.00,297.79 238.20,298.56 238.40,299.30 238.61,300.24 238.81,301.29 239.01,301.99 239.22,302.04 239.42,301.45 239.62,300.31 239.83,298.64 240.03,296.66 240.24,294.86 240.44,293.63 240.64,293.18 240.85,293.61 241.05,294.85 241.25,296.58 241.46,298.43 241.66,300.29 241.86,302.12 242.07,303.48 242.27,303.97 242.47,303.60 242.68,302.35 242.88,300.09 243.08,297.15 243.29,294.43 243.49,292.60 243.69,291.85 243.90,292.10 244.10,293.12 244.31,294.75 244.51,296.88 244.71,299.33 244.92,301.77 245.12,303.86 245.32,305.12 245.53,305.13 245.73,303.96 245.93,302.08 246.14,299.88 246.34,297.65 246.54,295.72 246.75,294.37 246.95,293.80 247.15,293.96 247.36,294.59 247.56,295.55 247.76,297.08 247.97,299.14 248.17,301.22 248.38,302.75 248.58,303.60 248.78,303.90 248.99,303.54 249.19,302.34 249.39,300.43 249.60,298.15 249.80,295.97 250.00,294.44 250.21,293.85 250.41,294.04 250.61,294.68 250.82,295.70 251.02,297.04 251.22,298.53 251.43,300.04 251.63,301.31 251.83,301.93 252.04,301.75 252.24,301.09 252.44,300.38 252.65,299.66 252.85,298.87 253.06,298.11 253.26,297.49 253.46,297.07 253.67,296.89 253.87,297.01 254.07,297.45 254.28,298.24 254.48,299.30 254.68,300.18 254.89,300.53 255.09,300.50 255.29,300.34 255.50,300.01 255.70,299.50 255.90,299.05 256.11,298.79 256.31,298.56 256.51,298.22 256.72,298.09 256.92,298.51 257.13,299.18 257.33,299.55 257.53,299.53 257.74,299.50 257.94,299.65 258.14,299.86 258.35,299.82 258.55,299.48 258.75,299.16 258.96,299.06 259.16,299.04 259.36,298.87 259.57,298.52 259.77,298.16 259.97,297.92 260.18,297.80 260.38,297.79 260.58,297.91 260.79,298.26 260.99,298.87 261.20,299.57 261.40,300.19 261.60,300.78 261.81,301.18 262.01,301.14 262.21,300.73 262.42,300.14 262.62,299.37 262.82,298.54 263.03,297.99 263.23,297.81 263.43,297.81 263.64,297.91 263.84,298.13 264.04,298.46 264.25,298.85 264.45,299.22 264.65,299.54 264.86,299.85 265.06,299.96 265.27,299.67 265.47,299.05 265.67,298.33 265.88,297.66 266.08,297.15 266.28,296.85 266.49,296.68 266.69,296.52 266.89,296.55 267.10,297.14 267.30,298.09 267.50,298.70 267.71,298.80 267.91,298.80 268.11,299.02 268.32,299.42 268.52,299.73 268.73,299.66 268.93,299.27 269.13,298.88 269.34,298.75 269.54,298.73 269.74,298.57 269.95,298.38 270.15,298.45 270.35,298.81 270.56,299.38 270.76,300.20 270.96,301.16 271.17,301.96 271.37,302.27 271.57,301.90 271.78,301.00 271.98,299.98 272.18,299.03 272.39,298.00 272.59,296.79 272.80,295.70 273.00,295.07 273.20,294.99 273.41,295.39 273.61,296.17 273.81,297.25 274.02,298.49 274.22,299.81 274.42,301.21 274.63,302.49 274.83,303.13 275.03,302.81 275.24,301.56 275.44,299.64 275.64,297.47 275.85,295.60 276.05,294.48 276.25,294.15 276.46,294.40 276.66,295.06 276.87,296.18 277.07,297.66 277.27,299.16 277.48,300.37 277.68,301.30 277.88,301.93 278.09,301.90 278.29,301.01 278.49,299.54 278.70,297.90 278.90,296.41 279.10,295.24 279.31,294.50 279.51,294.29 279.71,294.66 279.92,295.53 280.12,296.78 280.32,298.26 280.53,299.80 280.73,301.17 280.94,302.16 281.14,302.61 281.34,302.40 281.55,301.69 281.75,300.81 281.95,299.81 282.16,298.41 282.36,296.68 282.56,295.16 282.77,294.42 282.97,294.69 283.17,295.93 283.38,297.73 283.58,299.46 283.78,300.70 283.99,301.52 284.19,302.22 284.39,302.87 284.60,303.18 284.80,302.79 285.00,301.60 285.21,299.95 285.41,298.38 285.62,296.99 285.82,295.76 286.02,295.00 286.23,295.06 286.43,295.99 286.63,297.56 286.84,299.20 287.04,300.34 287.24,300.80 287.45,300.86 287.65,300.90 287.85,300.94 288.06,300.65 288.26,299.82 288.46,298.68 288.67,297.72 288.87,297.30 289.07,297.54 289.28,298.15 289.48,298.65 289.69,298.82 289.89,298.96 290.09,299.34 290.30,299.90 290.50,300.59 290.70,301.42 290.91,302.11 291.11,302.12 291.31,301.23 291.52,299.75 291.72,298.13 291.92,296.74 292.13,295.72 292.33,294.96 292.53,294.32 292.74,294.14 292.94,294.91 293.14,296.57 293.35,298.61 293.55,300.59 293.76,302.18 293.96,303.22 294.16,303.55 294.37,302.96 294.57,301.48 294.77,299.58 294.98,297.75 295.18,296.25 295.38,295.08 295.59,294.26 295.79,294.05 295.99,294.72 296.20,296.24 296.40,298.14 296.60,299.90 296.81,301.28 297.01,302.28 297.22,302.89 297.42,303.10 297.62,302.88 297.83,302.08 298.03,300.67 298.23,298.95 298.44,297.25 298.64,295.71 298.84,294.57 299.05,294.16 299.25,294.64 299.45,295.86 299.66,297.46 299.86,299.09 300.06,300.45 300.27,301.35 300.47,301.62 300.67,301.23 300.88,300.45 301.08,299.59 301.28,298.76 301.49,298.10 301.69,297.65 301.90,297.15 302.10,296.51 302.30,296.21 302.51,296.57 302.71,297.32 302.91,298.14 303.12,298.96 303.32,299.67 303.52,300.12 303.73,300.30 303.93,300.23 304.13,299.92 304.34,299.47 304.54,299.02 304.74,298.54 304.95,297.86 305.15,297.09 305.36,296.52 305.56,296.31 305.76,296.53 305.97,297.18 306.17,297.97 306.37,298.46 306.58,298.68 306.78,299.07 306.98,299.70 307.19,300.12 307.39,299.96 307.59,299.32 307.80,298.53 308.00,297.86 308.20,297.40 308.41,297.15 308.61,297.04 308.81,297.12 309.02,297.47 309.22,297.97 309.43,298.44 309.63,298.82 309.83,299.14 310.04,299.47 310.24,299.78 310.44,299.99 310.65,300.17 310.85,300.19 311.05,299.65 311.26,298.47 311.46,297.18 311.66,296.35 311.87,296.11 312.07,296.05 312.27,295.90 312.48,295.98 312.68,296.80 312.88,298.14 313.09,299.17 313.29,299.49 313.50,299.42 313.70,299.36 313.90,299.18 314.11,298.63 314.31,297.88 314.51,297.30 314.72,296.98 314.92,296.87 315.12,297.02 315.33,297.30 315.53,297.46 315.73,297.55 315.94,297.91 316.14,298.65 316.34,299.45 316.55,299.89 316.75,299.87 316.95,299.74 317.16,299.79 317.36,299.88 317.56,299.73 317.77,299.30 317.97,298.84 318.18,298.46 318.38,298.08 318.58,297.81 318.79,297.84 318.99,298.03 319.19,298.27 319.40,298.63 319.60,299.12 319.80,299.58 320.01,299.99 320.21,300.32 320.41,300.35 320.62,300.00 320.82,299.44 321.02,298.86 321.23,298.26 321.43,297.62 321.63,297.05 321.84,296.74 322.04,296.79 322.25,297.20 322.45,297.87 322.65,298.72 322.86,299.64 323.06,300.36 323.26,300.58 323.47,300.38 323.67,300.04 323.87,299.58 324.08,298.94 324.28,298.22 324.48,297.55 324.69,297.13 324.89,297.19 325.09,297.66 325.30,298.25 325.50,298.84 325.71,299.44 325.91,299.98 326.11,300.42 326.32,300.80 326.52,301.15 326.72,301.37 326.93,301.13 327.13,300.27 327.33,299.04 327.54,297.84 327.74,296.97 327.94,296.53 328.15,296.58 328.35,297.06 328.55,297.68 328.76,298.12 328.96,298.38 329.16,298.72 329.37,299.23 329.57,299.76 329.77,300.07 329.98,300.03 330.18,299.64 330.39,299.03 330.59,298.40 330.79,297.95 331.00,297.65 331.20,297.41 331.40,297.35 331.61,297.49 331.81,297.62 332.01,297.46 332.22,297.12 332.42,296.93 332.62,297.10 332.83,297.58 333.03,298.15 333.23,298.65 333.44,299.07 333.64,299.36 333.85,299.44 334.05,299.39 334.25,299.36 334.46,299.24 334.66,298.77 334.86,298.03 335.07,297.49 335.27,297.66 335.47,298.53 335.68,299.46 335.88,299.98 336.08,300.09 336.29,300.08 336.49,299.99 336.69,299.73 336.90,299.31 337.10,298.80 337.30,298.19 337.51,297.50 337.71,296.91 337.91,296.63 338.12,296.67 338.32,296.90 338.53,297.41 338.73,298.39 338.93,299.72 339.14,300.81 339.34,301.40 339.54,301.68 339.75,301.75 339.95,301.40 340.15,300.49 340.36,299.16 340.56,297.91 340.76,297.17 340.97,296.96 341.17,297.05 341.37,297.25 341.58,297.59 341.78,298.09 341.99,298.63 342.19,299.07 342.39,299.41 342.60,299.66 342.80,299.83 343.00,299.85 343.21,299.66 343.41,299.35 343.61,298.87 343.82,298.09 344.02,297.17 344.22,296.53 344.43,296.44 344.63,296.75 344.83,297.21 345.04,297.73 345.24,298.14 345.44,298.39 345.65,298.68 345.85,299.10 346.06,299.46 346.26,299.63 346.46,299.66 346.67,299.51 346.87,299.00 347.07,298.09 347.28,297.17 347.48,296.69 347.68,296.74 347.89,297.18 348.09,297.72 348.29,298.13 348.50,298.50 348.70,298.96 348.90,299.31 349.11,299.36 349.31,299.32 349.51,299.50 349.72,299.59 349.92,299.17 350.12,298.41 350.33,297.83 350.53,297.54 350.74,297.34 350.94,297.15 351.14,297.09 351.35,297.22 351.55,297.41 351.75,297.56 351.96,297.94 352.16,298.66 352.36,299.36 352.57,299.62 352.77,299.44 352.97,299.04 353.18,298.52 353.38,297.90 353.58,297.44 353.79,297.41 353.99,297.58 354.19,297.61 354.40,297.57 354.60,297.71 354.81,298.08 355.01,298.68 355.21,299.46 355.42,300.13 355.62,300.39 355.82,300.22 356.03,299.86 356.23,299.45 356.43,299.07 356.64,298.73 356.84,298.33 357.04,297.87 357.25,297.45 357.45,297.13 357.65,296.96 357.86,297.13 358.06,297.76 358.26,298.61 358.47,299.43 358.67,300.14 358.88,300.61 359.08,300.62 359.28,300.14 359.49,299.41 359.69,298.69 359.89,298.02 360.10,297.42 360.30,297.03 360.50,296.94 360.71,297.10 360.91,297.33 361.11,297.62 361.32,298.29 361.52,299.47 361.72,300.75 361.93,301.66 362.13,302.10 362.34,302.03 362.54,301.34 362.74,300.12 362.95,298.79 363.15,297.75 363.35,297.03 363.56,296.39 363.76,295.83 363.96,295.60 364.17,295.89 364.37,296.54 364.57,297.27 364.78,298.04 364.98,299.02 365.18,300.17 365.39,301.24 365.59,302.00 365.79,302.24 366.00,301.83 366.20,300.75 366.40,299.05 366.61,296.93 366.81,294.90 367.02,293.54 367.22,293.09 367.42,293.63 367.63,295.00 367.83,296.73 368.03,298.26 368.24,299.39 368.44,300.25 368.64,300.95 368.85,301.46 369.05,301.60 369.25,301.10 369.46,299.92 369.66,298.52 369.86,297.38 370.07,296.56 370.27,296.03 370.48,295.96 370.68,296.41 370.88,297.14 371.09,297.93 371.29,298.68 371.49,299.34 371.70,299.78 371.90,300.00 372.10,300.07 372.31,300.02 372.51,299.76 372.71,299.28 372.92,298.65 373.12,297.97 373.32,297.36 373.53,296.91 373.73,296.71 373.93,296.96 374.14,297.69 374.34,298.70 374.54,299.61 374.75,300.11 374.95,300.14 375.16,300.00 375.36,299.85 375.56,299.52 375.77,298.91 375.97,298.31 376.17,297.89 376.38,297.53 376.58,297.13 376.78,296.78 376.99,296.68 377.19,296.86 377.39,297.15 377.60,297.38 377.80,297.69 378.00,298.22 378.21,298.82 378.41,299.17 378.62,299.31 378.82,299.47 379.02,299.59 379.23,299.39 379.43,298.84 379.63,298.23 379.84,297.78 380.04,297.45 380.24,297.20 380.45,297.15 380.65,297.42 380.85,297.88 381.06,298.37 381.26,298.99 381.46,299.67 381.67,300.14 381.87,300.21 382.07,299.93 382.28,299.46 382.48,299.09 382.69,299.09 382.89,299.33 383.09,299.38 383.30,299.00 383.50,298.42 383.70,297.99 383.91,297.88 384.11,298.08 384.31,298.57 384.52,299.25 384.72,299.89 384.92,300.12 385.13,299.84 385.33,299.34 385.53,298.87 385.74,298.43 385.94,297.95 386.14,297.48 386.35,297.13 386.55,296.99 386.75,297.16 386.96,297.74 387.16,298.51 387.37,299.02 387.57,299.16 387.77,299.26 387.98,299.61 388.18,300.03 388.38,300.26 388.59,300.18 388.79,299.81 388.99,299.27 389.20,298.70 389.40,298.21 389.60,297.90 389.81,297.86 390.01,297.94 390.21,298.07 390.42,298.32 390.62,298.59 390.82,298.75 391.03,298.96 391.23,299.31 391.44,299.53 391.64,299.33 391.84,298.85 392.05,298.43 392.25,298.23 392.45,298.14 392.66,297.87 392.86,297.28 393.06,296.65 393.27,296.42 393.47,296.65 393.67,297.22 393.88,298.08 394.08,299.09 394.28,299.95 394.49,300.46 394.69,300.61 394.89,300.47 395.10,300.07 395.30,299.44 395.51,298.70 395.71,297.86 395.91,296.85 396.12,295.91 396.32,295.44 396.52,295.67 396.73,296.43 396.93,297.22 397.13,297.76 397.34,298.20 397.54,298.76 397.74,299.41 397.95,300.00 398.15,300.39 398.35,300.39 398.56,299.91 398.76,299.12 398.97,298.29 399.17,297.47 399.37,296.76 399.58,296.47 399.78,296.73 399.98,297.36 400.19,298.28 400.39,299.33 400.59,300.03 400.80,300.13 401.00,299.96" stroke="#22aa44" stroke-width="0.6" fill="none" stroke-linejoin="round" opacity="0.7"/>
<polyline points="197.50,354.59 197.70,291.17 197.91,277.12 198.11,266.48 198.31,260.85 198.52,261.06 198.72,267.10 198.92,277.89 199.13,291.57 199.33,310.23 199.53,331.15 199.74,347.08 199.94,355.58 200.15,355.33 200.35,346.26 200.55,329.88 200.76,308.91 200.96,292.39 201.16,282.17 201.37,274.79 201.57,271.18 201.77,271.72 201.98,276.29 202.18,284.14 202.38,294.02 202.59,309.23 202.79,325.92 202.99,337.81 203.20,343.34 203.40,341.95 203.60,334.07 203.81,321.14 204.01,305.35 204.22,292.89 204.42,284.10 204.62,277.62 204.83,274.41 205.03,274.90 205.23,279.00 205.44,286.04 205.64,294.94 205.84,306.52 206.05,317.72 206.25,325.43 206.45,328.69 206.66,327.26 206.86,321.59 207.06,312.80 207.27,302.42 207.47,292.79 207.68,284.60 207.88,278.63 208.08,275.77 208.29,276.45 208.49,280.52 208.69,287.29 208.90,295.65 209.10,303.57 209.30,309.92 209.51,314.17 209.71,315.85 209.91,314.89 210.12,311.55 210.32,306.46 210.52,300.50 210.73,293.49 210.93,287.05 211.13,282.60 211.34,280.72 211.54,281.61 211.75,285.04 211.95,290.38 212.15,296.73 212.36,301.94 212.56,305.97 212.76,308.73 212.97,309.88 213.17,309.32 213.37,307.16 213.58,303.78 213.78,299.71 213.98,294.85 214.19,290.57 214.39,287.73 214.59,286.67 214.80,287.47 215.00,289.92 215.20,293.52 215.41,297.63 215.61,301.48 215.81,304.75 216.02,306.99 216.22,307.90 216.43,307.35 216.63,305.47 216.83,302.63 217.04,299.31 217.24,296.42 217.44,294.09 217.65,292.50 217.85,291.82 218.05,292.13 218.26,293.42 218.46,295.51 218.66,298.09 218.87,300.63 219.07,302.74 219.27,304.18 219.48,304.79 219.68,304.48 219.88,303.27 220.09,301.35 220.29,299.00 220.50,296.19 220.70,293.63 220.90,291.81 221.11,291.02 221.31,291.39 221.51,292.88 221.72,295.26 221.92,298.18 222.12,300.74 222.33,302.92 222.53,304.45 222.73,305.09 222.94,304.74 223.14,303.44 223.34,301.41 223.55,298.91 223.75,295.86 223.96,293.19 224.16,291.38 224.36,290.67 224.57,291.21 224.77,292.92 224.97,295.53 225.18,298.61 225.38,301.33 225.58,303.65 225.79,305.19 225.99,305.69 226.19,305.15 226.40,303.71 226.60,301.61 226.80,299.09 227.01,296.23 227.21,293.68 227.41,291.96 227.62,291.38 227.82,292.03 228.03,293.79" stroke="#111111" stroke-width="0.5" fill="none" stroke-linejoin="round" opacity="0.3"/>
<polyline points="228.03,293.79 228.23,296.25 228.43,298.86 228.64,300.97 228.84,302.58 229.04,303.62 229.25,303.93 229.45,303.43 229.65,302.20 229.86,300.47 230.06,298.60 230.26,296.84 230.47,295.52 230.67,294.75 230.87,294.56 231.08,294.94 231.28,295.91 231.48,297.36 231.69,299.00 231.89,300.48 232.09,301.46 232.30,301.74 232.50,301.38 232.71,300.66 232.91,299.89 233.11,298.99 233.32,297.82 233.52,296.74 233.72,296.40 233.93,296.89 234.13,297.48 234.33,297.73 234.54,298.03 234.74,298.83 234.94,299.81 235.15,300.33 235.35,300.26 235.55,299.95 235.76,299.76 235.96,299.80 236.16,299.92 236.37,299.85 236.57,299.47 236.78,298.79 236.98,298.01 237.18,297.46 237.39,297.23 237.59,297.10 237.79,297.04 238.00,297.31 238.20,298.07 238.40,299.17 238.61,300.34 238.81,301.37 239.01,301.97 239.22,301.87 239.42,301.09 239.62,299.84 239.83,298.24 240.03,296.52 240.24,295.09 240.44,294.19 240.64,293.82 240.85,294.06 241.05,294.90 241.25,296.28 241.46,298.15 241.66,300.26 241.86,302.19 242.07,303.51 242.27,303.92 242.47,303.41 242.68,302.32 242.88,300.81 243.08,298.81 243.29,296.52 243.49,294.52 243.69,293.22 243.90,292.69 244.10,293.00 244.31,294.30 244.51,296.48 244.71,299.18 244.92,301.96 245.12,304.21 245.32,305.37 245.53,305.31 245.73,304.27 245.93,302.60 246.14,300.65 246.34,298.58 246.54,296.39 246.75,294.31 246.95,292.76 247.15,292.00 247.36,292.14 247.56,293.40 247.76,295.79 247.97,298.72 248.17,301.39 248.38,303.22 248.58,303.99 248.78,303.91 248.99,303.36 249.19,302.35 249.39,300.54 249.60,298.14 249.80,295.99 250.00,294.65 250.21,294.19 250.41,294.50 250.61,295.36 250.82,296.42 251.02,297.46 251.22,298.53 251.43,299.65 251.63,300.71 251.83,301.48 252.04,301.75 252.24,301.41 252.44,300.58 252.65,299.41 252.85,298.18 253.06,297.29 253.26,296.90 253.46,296.92 253.67,297.26 253.87,297.83 254.07,298.50 254.28,299.15 254.48,299.73 254.68,300.22 254.89,300.52 255.09,300.55 255.29,300.27 255.50,299.78 255.70,299.14 255.90,298.42 256.11,297.69 256.31,297.17 256.51,297.16 256.72,297.58 256.92,298.03 257.13,298.23 257.33,298.18 257.53,298.08 257.74,298.19 257.94,298.68 258.14,299.46 258.35,300.18 258.55,300.47 258.75,300.30 258.96,299.86 259.16,299.25 259.36,298.73 259.57,298.56 259.77,298.60 259.97,298.54 260.18,298.32 260.38,298.05 260.58,297.86 260.79,297.84 260.99,298.11 261.20,298.79 261.40,299.73 261.60,300.49 261.81,300.67 262.01,300.32 262.21,299.75 262.42,299.10 262.62,298.42 262.82,297.89 263.03,297.63 263.23,297.54 263.43,297.45 263.64,297.38 263.84,297.62 264.04,298.22 264.25,298.88 264.45,299.27 264.65,299.44 264.86,299.62 265.06,299.73 265.27,299.57 265.47,299.15 265.67,298.77 265.88,298.63 266.08,298.51 266.28,298.10 266.49,297.55 266.69,297.27 266.89,297.37 267.10,297.77 267.30,298.37 267.50,299.00 267.71,299.37 267.91,299.44 268.11,299.45 268.32,299.60 268.52,299.78 268.73,299.86 268.93,299.73 269.13,299.29 269.34,298.56 269.54,297.68 269.74,296.84 269.95,296.26 270.15,296.23 270.35,296.89 270.56,298.13 270.76,299.65 270.96,301.01 271.17,301.73 271.37,301.64 271.57,300.91 271.78,299.91 271.98,299.00 272.18,298.22 272.39,297.43 272.59,296.57 272.80,295.67 273.00,294.92 273.20,294.77 273.41,295.47 273.61,296.73 273.81,298.14 274.02,299.56 274.22,300.87 274.42,301.88 274.63,302.37 274.83,302.22 275.03,301.44 275.24,300.17 275.44,298.53 275.64,296.67 275.85,294.95 276.05,293.80 276.25,293.46 276.46,293.91 276.66,295.13 276.87,296.99 277.07,298.99 277.27,300.53 277.48,301.47 277.68,301.99 277.88,302.18 278.09,301.88 278.29,300.89 278.49,299.46 278.70,298.10 278.90,296.86 279.10,295.58 279.31,294.41 279.51,293.81 279.71,294.16 279.92,295.42 280.12,297.02 280.32,298.55 280.53,300.17 280.73,301.92 280.94,303.44 281.14,304.23 281.34,304.06 281.55,302.96 281.75,301.19 281.95,299.21 282.16,297.43 282.36,296.00 282.56,294.91 282.77,294.25 282.97,294.25 283.17,295.07 283.38,296.62 283.58,298.57 283.78,300.58 283.99,302.19 284.19,302.85 284.39,302.50 284.60,301.63 284.80,300.62 285.00,299.45 285.21,298.15 285.41,297.02 285.62,296.31 285.82,295.88 286.02,295.49 286.23,295.32 286.43,295.73 286.63,296.77 286.84,298.12 287.04,299.49 287.24,300.45 287.45,300.64 287.65,300.15 287.85,299.39 288.06,298.66 288.26,297.97 288.46,297.38 288.67,297.15 288.87,297.25 289.07,297.33 289.28,297.20 289.48,297.02 289.69,297.00 289.89,297.14 290.09,297.58 290.30,298.56 290.50,300.00 290.70,301.36 290.91,302.07 291.11,301.98 291.31,301.26 291.52,300.07 291.72,298.50 291.92,296.77 292.13,295.28 292.33,294.27 292.53,293.86 292.74,294.22 292.94,295.35 293.14,296.86 293.35,298.46 293.55,300.04 293.76,301.53 293.96,302.75 294.16,303.46 294.37,303.37 294.57,302.30 294.77,300.54 294.98,298.67 295.18,296.97 295.38,295.52 295.59,294.49 295.79,294.16 295.99,294.72 296.20,296.12 296.40,297.99 296.60,299.89 296.81,301.40 297.01,302.34 297.22,302.81 297.42,302.86 297.62,302.37 297.83,301.29 298.03,299.75 298.23,297.97 298.44,296.26 298.64,295.06 298.84,294.60 299.05,294.78 299.25,295.35 299.45,296.22 299.66,297.55 299.86,299.33 300.06,301.17 300.27,302.47 300.47,302.84 300.67,302.41 300.88,301.63 301.08,300.86 301.28,300.06 301.49,298.91 301.69,297.53 301.90,296.50 302.10,296.16 302.30,296.30 302.51,296.57 302.71,296.92 302.91,297.59 303.12,298.61 303.32,299.45 303.52,299.56 303.73,299.05 303.93,298.53 304.13,298.39 304.34,298.59 304.54,298.83 304.74,298.88 304.95,298.70 305.15,298.34 305.36,297.96 305.56,297.77 305.76,297.94 305.97,298.26 306.17,298.47 306.37,298.74 306.58,299.17 306.78,299.48 306.98,299.37 307.19,298.93 307.39,298.47 307.59,298.25 307.80,298.40 308.00,298.71 308.20,298.74 308.41,298.32 308.61,297.66 308.81,297.11 309.02,296.99 309.22,297.37 309.43,298.09 309.63,298.89 309.83,299.53 310.04,299.82 310.24,299.82 310.44,299.89 310.65,300.15 310.85,300.33 311.05,300.20 311.26,299.82 311.46,299.26 311.66,298.38 311.87,297.22 312.07,296.21 312.27,295.86 312.48,296.29 312.68,297.08 312.88,297.86 313.09,298.57 313.29,299.16 313.50,299.57 313.70,299.79 313.90,299.73 314.11,299.28 314.31,298.59 314.51,298.01 314.72,297.67 314.92,297.39 315.12,297.02 315.33,296.57 315.53,296.23 315.73,296.32 315.94,297.01 316.14,298.00 316.34,298.77 316.55,299.08 316.75,299.02 316.95,298.85 317.16,298.85 317.36,299.07 317.56,299.21 317.77,298.91 317.97,298.02 318.18,296.96 318.38,296.32 318.58,296.26 318.79,296.55 318.99,297.10 319.19,297.84 319.40,298.61 319.60,299.41 319.80,300.20 320.01,300.79 320.21,301.02 320.41,300.80 320.62,300.17 320.82,299.31 321.02,298.64 321.23,298.43 321.43,298.45 321.63,298.22 321.84,297.71 322.04,297.35 322.25,297.33 322.45,297.53 322.65,297.86 322.86,298.30 323.06,298.72 323.26,298.90 323.47,298.85 323.67,298.74 323.87,298.51 324.08,297.95 324.28,297.17 324.48,296.61 324.69,296.42 324.89,296.36 325.09,296.32 325.30,296.44 325.50,296.91 325.71,297.84 325.91,299.05 326.11,300.04 326.32,300.44 326.52,300.36 326.72,300.07 326.93,299.61 327.13,299.11 327.33,298.86 327.54,298.68 327.74,298.14 327.94,297.33 328.15,296.83 328.35,296.87 328.55,297.31 328.76,298.04 328.96,298.99 329.16,299.95 329.37,300.66 329.57,300.98 329.77,300.89 329.98,300.54 330.18,300.06 330.39,299.45 330.59,298.64 330.79,297.81 331.00,297.19 331.20,296.86 331.40,296.93 331.61,297.34 331.81,297.84 332.01,298.26 332.22,298.63 332.42,298.93 332.62,299.10 332.83,299.12 333.03,299.02 333.23,298.93 333.44,298.94 333.64,298.91 333.85,298.78 334.05,298.70 334.25,298.75 334.46,298.76 334.66,298.49 334.86,298.13 335.07,298.13 335.27,298.53 335.47,298.96 335.68,299.19 335.88,299.34 336.08,299.48 336.29,299.56 336.49,299.57 336.69,299.44 336.90,299.13 337.10,298.67 337.30,298.13 337.51,297.49 337.71,296.80 337.91,296.30 338.12,296.20 338.32,296.55 338.53,297.29 338.73,298.26 338.93,299.21 339.14,300.00 339.34,300.57 339.54,300.90 339.75,301.09 339.95,301.13 340.15,300.87 340.36,300.26 340.56,299.29 340.76,298.15 340.97,297.32 341.17,297.15 341.37,297.46 341.58,297.78 341.78,297.97 341.99,298.34 342.19,299.08 342.39,299.89 342.60,300.40 342.80,300.62 343.00,300.72 343.21,300.65 343.41,300.30 343.61,299.63 343.82,298.62 344.02,297.51 344.22,296.73 344.43,296.51 344.63,296.77 344.83,297.33 345.04,298.04 345.24,298.65 345.44,299.03 345.65,299.30 345.85,299.61 346.06,299.89 346.26,300.06 346.46,300.17 346.67,300.17 346.87,300.10 347.07,299.90 347.28,299.34 347.48,298.54 347.68,297.99 347.89,297.92 348.09,298.13 348.29,298.38 348.50,298.58 348.70,298.90 348.90,299.42 349.11,299.98 349.31,300.30 349.51,300.32 349.72,300.12 349.92,299.66 350.12,298.94 350.33,298.16 350.53,297.49 350.74,297.00 350.94,296.65 351.14,296.50 351.35,296.70 351.55,297.29 351.75,298.06 351.96,298.85 352.16,299.62 352.36,300.11 352.57,300.10 352.77,299.83 352.97,299.63 353.18,299.31 353.38,298.74 353.58,298.26 353.79,298.11 353.99,298.09 354.19,297.99 354.40,297.85 354.60,297.73 354.81,297.66 355.01,297.80 355.21,298.37 355.42,299.22 355.62,299.90 355.82,300.08 356.03,299.91 356.23,299.61 356.43,299.27 356.64,298.93 356.84,298.64 357.04,298.34 357.25,298.05 357.45,297.85 357.65,297.86 357.86,298.19 358.06,298.89 358.26,299.82 358.47,300.65 358.67,301.09 358.88,301.17 359.08,301.05 359.28,300.73 359.49,300.17 359.69,299.47 359.89,298.90 360.10,298.44 360.30,297.61 360.50,296.31 360.71,295.30 360.91,295.28 361.11,296.06 361.32,297.07 361.52,298.13 361.72,299.23 361.93,300.29 362.13,301.15 362.34,301.71 362.54,301.80 362.74,301.28 362.95,300.14 363.15,298.52 363.35,296.84 363.56,295.63 363.76,295.02 363.96,294.79 364.17,295.08 364.37,296.22 364.57,297.85 364.78,299.29 364.98,300.43 365.18,301.55 365.39,302.54 365.59,302.82 365.79,302.11 366.00,300.77 366.20,299.35 366.40,297.99 366.61,296.48 366.81,294.94 367.02,293.97 367.22,294.03 367.42,294.96 367.63,296.23 367.83,297.50 368.03,298.77 368.24,299.92 368.44,300.90 368.64,301.75 368.85,302.19 369.05,301.86 369.25,300.75 369.46,299.45 369.66,298.53 369.86,298.06 370.07,297.84 370.27,297.76 370.48,297.69 370.68,297.54 370.88,297.57 371.09,298.09 371.29,298.95 371.49,299.76 371.70,300.36 371.90,300.82 372.10,301.15 372.31,301.20 372.51,300.83 372.71,300.05 372.92,299.00 373.12,297.96 373.32,297.13 373.53,296.61 373.73,296.56 373.93,297.01 374.14,297.66 374.34,298.26 374.54,298.80 374.75,299.32 374.95,299.80 375.16,300.13 375.36,300.24 375.56,300.08 375.77,299.60 375.97,298.97 376.17,298.36 376.38,297.81 376.58,297.29 376.78,296.86 376.99,296.58 377.19,296.48 377.39,296.67 377.60,297.44 377.80,298.74 378.00,299.96 378.21,300.53 378.41,300.55 378.62,300.44 378.82,300.30 379.02,299.90 379.23,299.20 379.43,298.31 379.63,297.43 379.84,296.92 380.04,296.98 380.24,297.34 380.45,297.69 380.65,297.97 380.85,298.16 381.06,298.33 381.26,298.67 381.46,299.08 381.67,299.21 381.87,298.92 382.07,298.44 382.28,298.12 382.48,297.97 382.69,297.70 382.89,297.16 383.09,296.60 383.30,296.41 383.50,296.71 383.70,297.38 383.91,298.07 384.11,298.38 384.31,298.28 384.52,298.15 384.72,298.35 384.92,298.81 385.13,299.14 385.33,299.07 385.53,298.58 385.74,297.94 385.94,297.57 386.14,297.58 386.35,297.66 386.55,297.72 386.75,297.94 386.96,298.26 387.16,298.47 387.37,298.65 387.57,299.00 387.77,299.54 387.98,300.00 388.18,300.16 388.38,299.99 388.59,299.62 388.79,299.10 388.99,298.52 389.20,298.00 389.40,297.61 389.60,297.35 389.81,297.17 390.01,297.00 390.21,297.07 390.42,297.63 390.62,298.49 390.82,299.24 391.03,299.71 391.23,299.97 391.44,300.10 391.64,300.00 391.84,299.60 392.05,299.04 392.25,298.41 392.45,297.81 392.66,297.39 392.86,297.19 393.06,297.08 393.27,297.15 393.47,297.46 393.67,297.95 393.88,298.55 394.08,299.21 394.28,299.85 394.49,300.31 394.69,300.53 394.89,300.47 395.10,300.14 395.30,299.58 395.51,298.92 395.71,298.28 395.91,297.83 396.12,297.67 396.32,297.89 396.52,298.44 396.73,299.00 396.93,299.24 397.13,299.44 397.34,300.03 397.54,300.63 397.74,300.46 397.95,299.72 398.15,299.19 398.35,298.97 398.56,298.59 398.76,298.00 398.97,297.60 399.17,297.59 399.37,297.84 399.58,298.17 399.78,298.41 399.98,298.45 400.19,298.29 400.39,298.23 400.59,298.45 400.80,298.83 401.00,299.23" stroke="#111111" stroke-width="0.6" fill="none" stroke-linejoin="round" opacity="0.6"/>
<polyline points="197.50,357.42 197.70,290.79 197.91,276.04 198.11,264.86 198.31,258.94 198.52,259.17 198.72,265.51 198.92,276.85 199.13,291.21 199.33,310.82 199.53,332.79 199.74,349.52 199.94,358.46 200.15,358.20 200.35,348.67 200.55,331.46 200.76,309.43 200.96,292.08 201.16,281.34 201.37,273.59 201.57,269.80 201.77,270.36 201.98,275.16 202.18,283.41 202.38,293.79 202.59,309.77 202.79,327.30 202.99,339.79 203.20,345.60 203.40,344.14 203.60,335.86 203.81,322.28 204.01,305.70 204.22,292.60 204.42,283.37 204.62,276.56 204.83,273.18 205.03,273.71 205.23,278.01 205.44,285.41 205.64,294.75 205.84,306.92 206.05,318.68 206.25,326.78 206.45,330.21 206.66,328.71 206.86,322.75 207.06,313.51 207.27,302.61 207.47,292.49 207.68,283.89 207.88,277.62 208.08,274.62 208.29,275.33 208.49,279.61 208.69,286.72 208.90,295.50 209.10,303.82 209.30,310.49 209.51,314.95 209.71,316.73 209.91,315.72 210.12,312.21 210.32,306.86 210.52,300.59 210.73,293.23 210.93,286.46 211.13,281.79 211.34,279.82 211.54,280.76 211.75,284.36 211.95,289.96 212.15,296.63 212.36,302.11 212.56,306.34 212.76,309.25 212.97,310.45 213.17,309.86 213.37,307.59 213.58,304.04 213.78,299.76 213.98,294.67 214.19,290.16 214.39,287.18 214.59,286.07 214.80,286.91 215.00,289.48 215.20,293.26 215.41,297.58 215.61,301.62 215.81,305.06 216.02,307.42 216.22,308.37 216.43,307.79 216.63,305.82 216.83,302.83 217.04,299.35 217.24,296.31 217.44,293.86 217.65,292.19 217.85,291.48 218.05,291.80 218.26,293.16 218.46,295.36 218.66,298.07 218.87,300.73 219.07,302.95 219.27,304.46 219.48,305.10 219.68,304.77 219.88,303.51 220.09,301.49 220.29,299.02 220.50,296.07 220.70,293.38 220.90,291.47 221.11,290.64 221.31,291.03 221.51,292.59 221.72,295.09 221.92,298.16 222.12,300.85 222.33,303.14 222.53,304.74 222.73,305.42 222.94,305.05 223.14,303.68 223.34,301.52 223.55,298.88 223.75,295.66 223.96,292.80 224.16,290.82 224.36,290.04 224.57,290.57 224.77,292.36 224.97,295.10 225.18,298.34 225.38,301.15 225.58,303.49 225.79,305.05 225.99,305.60 226.19,305.03 226.40,303.47 226.60,301.25 226.80,298.72 227.01,295.92 227.21,293.40 227.41,291.75 227.62,291.34 227.82,292.13 228.03,293.87" stroke="#ff2020" stroke-width="0.5" fill="none" stroke-linejoin="round" opacity="0.6"/>
<polyline points="228.03,293.87 228.23,296.17 228.43,298.64 228.64,300.75 228.84,302.44 229.04,303.46 229.25,303.57 229.45,302.79 229.65,301.50 229.86,300.05 230.06,298.57 230.26,297.05 230.47,295.75 230.67,294.84 230.87,294.46 231.08,294.71 231.28,295.63 231.48,297.11 231.69,298.74 231.89,299.93 232.09,300.45 232.30,300.56 232.50,300.38 232.71,299.76 232.91,298.91 233.11,298.35 233.32,298.16 233.52,297.87 233.72,297.25 233.93,296.52 234.13,295.99 234.33,295.90 234.54,296.47 234.74,297.62 234.94,298.86 235.15,299.75 235.35,300.22 235.55,300.37 235.76,300.26 235.96,299.97 236.16,299.62 236.37,299.34 236.57,299.12 236.78,298.75 236.98,298.06 237.18,297.31 237.39,296.86 237.59,296.87 237.79,297.38 238.00,298.25 238.20,299.11 238.40,299.75 238.61,300.35 238.81,301.05 239.01,301.69 239.22,301.99 239.42,301.62 239.62,300.44 239.83,298.67 240.03,296.77 240.24,294.96 240.44,293.37 240.64,292.41 240.85,292.62 241.05,294.11 241.25,296.41 241.46,298.85 241.66,301.08 241.86,302.92 242.07,304.16 242.27,304.62 242.47,304.34 242.68,303.33 242.88,301.43 243.08,298.63 243.29,295.56 243.49,293.06 243.69,291.59 243.90,291.13 244.10,291.54 244.31,292.85 244.51,295.06 244.71,297.84 244.92,300.61 245.12,302.88 245.32,304.41 245.53,304.99 245.73,304.45 245.93,302.85 246.14,300.55 246.34,298.04 246.54,295.75 246.75,293.89 246.95,292.61 247.15,292.29 247.36,293.22 247.56,295.18 247.76,297.61 247.97,300.07 248.17,302.39 248.38,304.30 248.58,305.31 248.78,305.12 248.99,304.05 249.19,302.66 249.39,301.17 249.60,299.36 249.80,297.14 250.00,294.96 250.21,293.61 250.41,293.63 250.61,294.86 250.82,296.66 251.02,298.49 251.22,300.03 251.43,301.10 251.63,301.66 251.83,301.68 252.04,301.12 252.24,300.25 252.44,299.58 252.65,299.10 252.85,298.41 253.06,297.40 253.26,296.42 253.46,295.80 253.67,295.73 253.87,296.18 254.07,296.88 254.28,297.54 254.48,298.20 254.68,298.98 254.89,299.77 255.09,300.36 255.29,300.60 255.50,300.42 255.70,299.92 255.90,299.29 256.11,298.70 256.31,298.26 256.51,298.09 256.72,298.12 256.92,298.16 257.13,298.16 257.33,298.28 257.53,298.65 257.74,299.20 257.94,299.72 258.14,300.13 258.35,300.28 258.55,300.04 258.75,299.37 258.96,298.43 259.16,297.47 259.36,296.81 259.57,296.67 259.77,296.87 259.97,297.12 260.18,297.44 260.38,297.90 260.58,298.32 260.79,298.55 260.99,298.78 261.20,299.18 261.40,299.46 261.60,299.30 261.81,298.86 262.01,298.54 262.21,298.50 262.42,298.51 262.62,298.24 262.82,297.65 263.03,297.03 263.23,296.70 263.43,296.71 263.64,296.93 263.84,297.34 264.04,298.06 264.25,299.05 264.45,300.02 264.65,300.70 264.86,300.97 265.06,300.77 265.27,300.22 265.47,299.56 265.67,298.91 265.88,298.33 266.08,297.84 266.28,297.36 266.49,296.97 266.69,296.87 266.89,297.12 267.10,297.64 267.30,298.28 267.50,298.88 267.71,299.41 267.91,299.98 268.11,300.51 268.32,300.57 268.52,299.87 268.73,298.85 268.93,298.27 269.13,298.15 269.34,297.82 269.54,297.05 269.74,296.37 269.95,296.33 270.15,296.96 270.35,297.91 270.56,298.85 270.76,299.72 270.96,300.68 271.17,301.70 271.37,302.35 271.57,302.24 271.78,301.51 271.98,300.46 272.18,299.21 272.39,297.79 272.59,296.49 272.80,295.62 273.00,295.29 273.20,295.52 273.41,296.27 273.61,297.43 273.81,298.85 274.02,300.39 274.22,301.76 274.42,302.69 274.63,303.15 274.83,303.07 275.03,302.23 275.24,300.77 275.44,299.21 275.64,297.82 275.85,296.49 276.05,295.22 276.25,294.46 276.46,294.57 276.66,295.57 276.87,297.13 277.07,298.86 277.27,300.45 277.48,301.77 277.68,302.84 277.88,303.69 278.09,304.13 278.29,303.72 278.49,302.17 278.70,299.76 278.90,297.27 279.10,295.40 279.31,294.36 279.51,294.06 279.71,294.43 279.92,295.41 280.12,296.82 280.32,298.48 280.53,300.28 280.73,301.91 280.94,302.85 281.14,302.91 281.34,302.42 281.55,301.75 281.75,300.86 281.95,299.53 282.16,297.87 282.36,296.22 282.56,294.86 282.77,294.03 282.97,293.98 283.17,294.75 283.38,296.11 283.58,297.78 283.78,299.54 283.99,301.22 284.19,302.47 284.39,302.92 284.60,302.51 284.80,301.62 285.00,300.58 285.21,299.44 285.41,298.16 285.62,296.93 285.82,296.06 286.02,295.78 286.23,296.17 286.43,297.07 286.63,298.04 286.84,298.87 287.04,299.49 287.24,299.80 287.45,299.99 287.65,300.31 287.85,300.47 288.06,300.02 288.26,299.08 288.46,298.22 288.67,297.76 288.87,297.56 289.07,297.43 289.28,297.37 289.48,297.43 289.69,297.56 289.89,297.81 290.09,298.31 290.30,299.10 290.50,300.06 290.70,300.93 290.91,301.41 291.11,301.36 291.31,300.91 291.52,300.11 291.72,298.81 291.92,297.14 292.13,295.71 292.33,294.97 292.53,294.88 292.74,295.30 292.94,296.13 293.14,297.20 293.35,298.25 293.55,299.20 293.76,300.10 293.96,300.94 294.16,301.50 294.37,301.60 294.57,301.23 294.77,300.37 294.98,299.05 295.18,297.45 295.38,295.84 295.59,294.60 295.79,294.16 295.99,294.65 296.20,295.75 296.40,297.11 296.60,298.64 296.81,300.33 297.01,301.92 297.22,303.00 297.42,303.30 297.62,302.85 297.83,301.80 298.03,300.26 298.23,298.37 298.44,296.51 298.64,295.15 298.84,294.50 299.05,294.43 299.25,294.81 299.45,295.74 299.66,297.30 299.86,299.20 300.06,300.93 300.27,302.13 300.47,302.72 300.67,302.75 300.88,302.20 301.08,301.05 301.28,299.52 301.49,298.09 301.69,296.99 301.90,296.20 302.10,295.77 302.30,295.80 302.51,296.26 302.71,296.96 302.91,297.74 303.12,298.53 303.32,299.31 303.52,300.04 303.73,300.56 303.93,300.78 304.13,300.84 304.34,300.77 304.54,300.42 304.74,299.76 304.95,298.98 305.15,298.36 305.36,298.04 305.56,298.01 305.76,298.20 305.97,298.50 306.17,298.77 306.37,298.89 306.58,298.92 306.78,299.11 306.98,299.66 307.19,300.37 307.39,300.68 307.59,300.37 307.80,299.72 308.00,299.03 308.20,298.29 308.41,297.64 308.61,297.29 308.81,297.24 309.02,297.33 309.22,297.52 309.43,297.94 309.63,298.71 309.83,299.68 310.04,300.36 310.24,300.34 310.44,299.86 310.65,299.34 310.85,298.88 311.05,298.42 311.26,297.92 311.46,297.42 311.66,297.04 311.87,296.90 312.07,297.01 312.27,297.39 312.48,297.98 312.68,298.62 312.88,299.08 313.09,299.31 313.29,299.44 313.50,299.66 313.70,299.92 313.90,299.95 314.11,299.58 314.31,298.85 314.51,298.03 314.72,297.56 314.92,297.55 315.12,297.53 315.33,297.21 315.53,296.91 315.73,297.08 315.94,297.68 316.14,298.30 316.34,298.66 316.55,298.83 316.75,299.00 316.95,299.24 317.16,299.43 317.36,299.36 317.56,298.85 317.77,298.07 317.97,297.51 318.18,297.40 318.38,297.49 318.58,297.52 318.79,297.52 318.99,297.63 319.19,297.90 319.40,298.41 319.60,299.14 319.80,299.76 320.01,299.91 320.21,299.60 320.41,299.16 320.62,298.84 320.82,298.57 321.02,298.20 321.23,297.71 321.43,297.25 321.63,297.10 321.84,297.49 322.04,298.15 322.25,298.66 322.45,298.89 322.65,298.95 322.86,299.13 323.06,299.53 323.26,299.81 323.47,299.60 323.67,299.03 323.87,298.53 324.08,298.36 324.28,298.32 324.48,298.06 324.69,297.58 324.89,297.15 325.09,296.86 325.30,296.66 325.50,296.67 325.71,297.13 325.91,298.01 326.11,299.05 326.32,299.99 326.52,300.54 326.72,300.45 326.93,299.78 327.13,299.00 327.33,298.49 327.54,298.14 327.74,297.67 327.94,297.06 328.15,296.62 328.35,296.70 328.55,297.35 328.76,298.20 328.96,298.81 329.16,299.14 329.37,299.45 329.57,299.86 329.77,300.19 329.98,300.18 330.18,299.80 330.39,299.19 330.59,298.57 330.79,298.22 331.00,298.09 331.20,297.95 331.40,297.75 331.61,297.75 331.81,298.18 332.01,299.08 332.22,300.16 332.42,301.04 332.62,301.51 332.83,301.48 333.03,300.89 333.23,299.94 333.44,299.13 333.64,298.68 333.85,298.36 334.05,297.87 334.25,297.28 334.46,296.94 334.66,296.98 334.86,297.26 335.07,297.59 335.27,298.00 335.47,298.58 335.68,299.24 335.88,299.76 336.08,300.11 336.29,300.37 336.49,300.55 336.69,300.37 336.90,299.58 337.10,298.32 337.30,297.09 337.51,296.24 337.71,295.84 337.91,295.87 338.12,296.27 338.32,296.97 338.53,297.83 338.73,298.76 338.93,299.73 339.14,300.55 339.34,300.97 339.54,300.94 339.75,300.67 339.95,300.22 340.15,299.56 340.36,298.71 340.56,297.85 340.76,297.24 340.97,296.92 341.17,296.80 341.37,296.92 341.58,297.38 341.78,298.09 341.99,298.93 342.19,299.77 342.39,300.47 342.60,300.89 342.80,300.95 343.00,300.62 343.21,299.92 343.41,298.95 343.61,298.01 343.82,297.25 344.02,296.57 344.22,296.01 344.43,295.89 344.63,296.38 344.83,297.27 345.04,298.16 345.24,298.82 345.44,299.23 345.65,299.50 345.85,299.69 346.06,299.75 346.26,299.69 346.46,299.39 346.67,298.78 346.87,298.10 347.07,297.70 347.28,297.60 347.48,297.66 347.68,297.84 347.89,298.11 348.09,298.20 348.29,298.09 348.50,298.09 348.70,298.40 348.90,298.83 349.11,299.05 349.31,298.95 349.51,298.71 349.72,298.64 349.92,298.87 350.12,299.11 350.33,298.94 350.53,298.46 350.74,298.15 350.94,298.27 351.14,298.56 351.35,298.69 351.55,298.66 351.75,298.67 351.96,298.88 352.16,299.27 352.36,299.71 352.57,300.00 352.77,299.99 352.97,299.60 353.18,298.88 353.38,298.05 353.58,297.39 353.79,296.99 353.99,296.71 354.19,296.60 354.40,296.96 354.60,297.76 354.81,298.43 355.01,298.52 355.21,298.42 355.42,298.80 355.62,299.68 355.82,300.41 356.03,300.51 356.23,299.98 356.43,299.14 356.64,298.38 356.84,297.90 357.04,297.65 357.25,297.46 357.45,297.34 357.65,297.38 357.86,297.58 358.06,297.94 358.26,298.43 358.47,298.89 358.67,299.23 358.88,299.64 359.08,300.18 359.28,300.57 359.49,300.34 359.69,299.27 359.89,297.88 360.10,296.98 360.30,296.73 360.50,296.65 360.71,296.50 360.91,296.52 361.11,296.93 361.32,297.70 361.52,298.73 361.72,299.80 361.93,300.68 362.13,301.18 362.34,301.26 362.54,301.08 362.74,300.64 362.95,299.83 363.15,298.66 363.35,297.31 363.56,296.03 363.76,295.03 363.96,294.50 364.17,294.60 364.37,295.40 364.57,296.80 364.78,298.61 364.98,300.49 365.18,301.99 365.39,302.75 365.59,302.76 365.79,302.19 366.00,301.13 366.20,299.51 366.40,297.55 366.61,295.77 366.81,294.67 367.02,294.43 367.22,294.94 367.42,295.98 367.63,297.30 367.83,298.68 368.03,299.99 368.24,301.09 368.44,301.96 368.64,302.53 368.85,302.55 369.05,301.88 369.25,300.77 369.46,299.55 369.66,298.35 369.86,297.24 370.07,296.31 370.27,295.80 370.48,295.88 370.68,296.37 370.88,297.01 371.09,297.73 371.29,298.51 371.49,299.32 371.70,300.22 371.90,301.02 372.10,301.45 372.31,301.37 372.51,300.97 372.71,300.43 372.92,299.72 373.12,298.84 373.32,298.01 373.53,297.39 373.73,297.13 373.93,297.43 374.14,298.19 374.34,298.85 374.54,299.05 374.75,299.05 374.95,299.26 375.16,299.67 375.36,300.07 375.56,300.25 375.77,300.02 375.97,299.33 376.17,298.42 376.38,297.70 376.58,297.33 376.78,297.24 376.99,297.33 377.19,297.34 377.39,297.28 377.60,297.52 377.80,298.19 378.00,299.03 378.21,299.75 378.41,300.05 378.62,299.78 378.82,299.25 379.02,298.95 379.23,298.98 379.43,298.93 379.63,298.52 379.84,297.83 380.04,297.22 380.24,297.04 380.45,297.32 380.65,297.79 380.85,298.27 381.06,298.90 381.26,299.80 381.46,300.81 381.67,301.67 381.87,302.03 382.07,301.61 382.28,300.57 382.48,299.40 382.69,298.39 382.89,297.67 383.09,297.40 383.30,297.57 383.50,297.86 383.70,298.07 383.91,298.20 384.11,298.36 384.31,298.60 384.52,298.99 384.72,299.62 384.92,300.38 385.13,300.83 385.33,300.58 385.53,299.71 385.74,298.63 385.94,297.79 386.14,297.35 386.35,296.93 386.55,296.19 386.75,295.46 386.96,295.32 387.16,295.87 387.37,296.76 387.57,297.76 387.77,298.81 387.98,299.77 388.18,300.30 388.38,300.18 388.59,299.46 388.79,298.52 388.99,297.79 389.20,297.41 389.40,297.28 389.60,297.37 389.81,297.60 390.01,297.81 390.21,297.84 390.42,297.85 390.62,298.14 390.82,298.70 391.03,299.26 391.23,299.76 391.44,300.22 391.64,300.44 391.84,300.30 392.05,300.01 392.25,299.75 392.45,299.50 392.66,299.12 392.86,298.63 393.06,298.11 393.27,297.72 393.47,297.68 393.67,298.10 393.88,298.74 394.08,299.25 394.28,299.53 394.49,299.66 394.69,299.70 394.89,299.62 395.10,299.43 395.30,299.13 395.51,298.80 395.71,298.46 395.91,298.01 396.12,297.38 396.32,296.70 396.52,296.25 396.73,296.38 396.93,297.21 397.13,298.39 397.34,299.43 397.54,300.15 397.74,300.59 397.95,300.88 398.15,301.07 398.35,301.03 398.56,300.59 398.76,299.70 398.97,298.60 399.17,297.63 399.37,296.93 399.58,296.42 399.78,296.19 399.98,296.59 400.19,297.68 400.39,298.92 400.59,299.73 400.80,299.97 401.00,299.93" stroke="#ff2020" stroke-width="0.6" fill="none" stroke-linejoin="round" opacity="0.85"/>
<polyline points="197.50,355.16 197.70,291.09 197.91,276.91 198.11,266.16 198.31,260.47 198.52,260.68 198.72,266.79 198.92,277.69 199.13,291.50 199.33,310.35 199.53,331.47 199.74,347.57 199.94,356.16 200.15,355.91 200.35,346.74 200.55,330.19 200.76,309.01 200.96,292.33 201.16,282.00 201.37,274.55 201.57,270.91 201.77,271.44 201.98,276.06 202.18,283.99 202.38,293.98 202.59,309.34 202.79,326.20 202.99,338.21 203.20,343.79 203.40,342.39 203.60,334.43 203.81,321.37 204.01,305.42 204.22,292.83 204.42,283.95 204.62,277.41 204.83,274.16 205.03,274.66 205.23,278.80 205.44,285.91 205.64,294.90 205.84,306.60 206.05,317.91 206.25,325.70 206.45,329.00 206.66,327.55 206.86,321.82 207.06,312.94 207.27,302.46 207.47,292.73 207.68,284.46 207.88,278.42 208.08,275.54 208.29,276.23 208.49,280.34 208.69,287.18 208.90,295.62 209.10,303.62 209.30,310.03 209.51,314.33 209.71,316.03 209.91,315.06 210.12,311.68 210.32,306.54 210.52,300.52 210.73,293.44 210.93,286.93 211.13,282.43 211.34,280.54 211.54,281.44 211.75,284.90 211.95,290.29 212.15,296.71 212.36,301.97 212.56,306.04 212.76,308.84 212.97,310.00 213.17,309.42 213.37,307.24 213.58,303.83 213.78,299.72 213.98,294.82 214.19,290.49 214.39,287.62 214.59,286.55 214.80,287.36 215.00,289.83 215.20,293.47 215.41,297.62 215.61,301.51 215.81,304.81 216.02,307.08 216.22,307.99 216.43,307.44 216.63,305.54 216.83,302.67 217.04,299.32 217.24,296.39 217.44,294.04 217.65,292.44 217.85,291.75 218.05,292.07 218.26,293.37 218.46,295.48 218.66,298.09 218.87,300.65 219.07,302.78 219.27,304.24 219.48,304.85 219.68,304.54 219.88,303.32 220.09,301.38 220.29,299.00 220.50,296.17 220.70,293.58 220.90,291.74 221.11,290.94 221.31,291.32 221.51,292.82 221.72,295.22 221.92,298.18 222.12,300.76 222.33,302.96 222.53,304.51 222.73,305.15 222.94,304.80 223.14,303.47 223.34,301.36 223.55,298.82 223.75,295.74 223.96,293.05 224.16,291.21 224.36,290.46 224.57,290.94 224.77,292.60 224.97,295.23 225.18,298.43 225.38,301.31 225.58,303.77 225.79,305.44 225.99,306.05 226.19,305.47 226.40,303.90 226.60,301.68 226.80,299.14 227.01,296.33 227.21,293.85 227.41,292.17 227.62,291.59 227.82,292.19 228.03,293.84" stroke="#0000ff" stroke-width="0.75" fill="none" stroke-linejoin="round" opacity="1.0"/>
<polyline points="228.03,293.84 228.23,296.22 228.43,298.87 228.64,301.19 228.84,303.05 229.04,304.15 229.25,304.23 229.45,303.30 229.65,301.69 229.86,299.84 230.06,297.97 230.26,296.21 230.47,294.91 230.67,294.34 230.87,294.56 231.08,295.35 231.28,296.48 231.48,297.85 231.69,299.34 231.89,300.72 232.09,301.66 232.30,301.99 232.50,301.83 232.71,301.36 232.91,300.63 233.11,299.66 233.32,298.62 233.52,297.67 233.72,296.88 233.93,296.35 234.13,296.25 234.33,296.54 234.54,297.01 234.74,297.61 234.94,298.47 235.15,299.48 235.35,300.27 235.55,300.56 235.76,300.50 235.96,300.30 236.16,300.02 236.37,299.68 236.57,299.21 236.78,298.50 236.98,297.68 237.18,297.09 237.39,296.81 237.59,296.78 237.79,297.03 238.00,297.54 238.20,298.16 238.40,298.86 238.61,299.78 238.81,300.97 239.01,302.02 239.22,302.40 239.42,301.87 239.62,300.54 239.83,298.59 240.03,296.34 240.24,294.27 240.44,292.83 240.64,292.34 240.85,292.95 241.05,294.43 241.25,296.33 241.46,298.38 241.66,300.30 241.86,301.67 242.07,302.32 242.27,302.59 242.47,302.70 242.68,302.28 242.88,300.98 243.08,299.04 243.29,296.94 243.49,295.07 243.69,293.69 243.90,293.05 244.10,293.39 244.31,294.75 244.51,296.90 244.71,299.29 244.92,301.38 245.12,302.94 245.32,303.93 245.53,304.17 245.73,303.53 245.93,302.23 246.14,300.52 246.34,298.46 246.54,296.23 246.75,294.18 246.95,292.72 247.15,292.27 247.36,293.02 247.56,294.79 247.76,297.08 247.97,299.31 248.17,301.06 248.38,302.32 248.58,303.08 248.78,303.09 248.99,302.30 249.19,301.07 249.39,299.67 249.60,297.99 249.80,296.00 250.00,294.13 250.21,293.00 250.41,292.88 250.61,293.65 250.82,295.09 251.02,296.92 251.22,298.84 251.43,300.61 251.63,302.05 251.83,303.01 252.04,303.30 252.24,302.74 252.44,301.38 252.65,299.60 252.85,297.76 253.06,296.17 253.26,295.12 253.46,294.87 253.67,295.44 253.87,296.44 254.07,297.40 254.28,298.29 254.48,299.31 254.68,300.21 254.89,300.48 255.09,300.00 255.29,299.15 255.50,298.44 255.70,298.03 255.90,297.68 256.11,297.25 256.31,296.91 256.51,296.68 256.72,296.46 256.92,296.43 257.13,296.83 257.33,297.64 257.53,298.53 257.74,299.17 257.94,299.57 258.14,299.95 258.35,300.30 258.55,300.28 258.75,299.85 258.96,299.33 259.16,298.87 259.36,298.37 259.57,297.73 259.77,297.16 259.97,297.01 260.18,297.30 260.38,297.50 260.58,297.34 260.79,297.21 260.99,297.65 261.20,298.45 261.40,298.95 261.60,298.95 261.81,298.90 262.01,299.09 262.21,299.40 262.42,299.54 262.62,299.35 262.82,298.82 263.03,298.24 263.23,297.93 263.43,297.95 263.64,298.17 263.84,298.55 264.04,299.07 264.25,299.58 264.45,299.92 264.65,300.21 264.86,300.57 265.06,300.85 265.27,300.73 265.47,300.08 265.67,299.17 265.88,298.52 266.08,298.20 266.28,297.75 266.49,297.13 266.69,296.85 266.89,297.17 267.10,297.72 267.30,298.29 267.50,299.06 267.71,299.92 267.91,300.43 268.11,300.51 268.32,300.38 268.52,300.16 268.73,299.80 268.93,299.26 269.13,298.62 269.34,297.94 269.54,297.29 269.74,296.81 269.95,296.64 270.15,296.71 270.35,296.88 270.56,297.31 270.76,298.19 270.96,299.34 271.17,300.40 271.37,301.15 271.57,301.39 271.78,301.04 271.98,300.27 272.18,299.25 272.39,298.02 272.59,296.75 272.80,295.78 273.00,295.26 273.20,295.07 273.41,295.30 273.61,296.26 273.81,297.91 274.02,299.76 274.22,301.27 274.42,302.18 274.63,302.47 274.83,302.18 275.03,301.33 275.24,300.08 275.44,298.69 275.64,297.45 275.85,296.50 276.05,295.87 276.25,295.57 276.46,295.64 276.66,296.17 276.87,297.30 277.07,298.97 277.27,300.72 277.48,302.03 277.68,302.74 277.88,302.93 278.09,302.53 278.29,301.47 278.49,299.89 278.70,298.12 278.90,296.52 279.10,295.35 279.31,294.64 279.51,294.39 279.71,294.76 279.92,295.82 280.12,297.33 280.32,298.96 280.53,300.52 280.73,301.91 280.94,302.97 281.14,303.43 281.34,303.08 281.55,302.11 281.75,300.84 281.95,299.35 282.16,297.65 282.36,295.90 282.56,294.49 282.77,293.85 282.97,294.28 283.17,295.66 283.38,297.48 283.58,299.31 283.78,300.97 283.99,302.25 284.19,302.89 284.39,302.79 284.60,302.07 284.80,300.99 285.00,299.77 285.21,298.52 285.41,297.31 285.62,296.29 285.82,295.58 286.02,295.20 286.23,295.18 286.43,295.73 286.63,296.82 286.84,298.03 287.04,298.98 287.24,299.54 287.45,299.88 287.65,300.19 287.85,300.45 288.06,300.31 288.26,299.51 288.46,298.39 288.67,297.57 288.87,297.27 289.07,297.24 289.28,297.23 289.48,297.31 289.69,297.54 289.89,297.79 290.09,298.08 290.30,298.65 290.50,299.54 290.70,300.34 290.91,300.64 291.11,300.39 291.31,299.69 291.52,298.49 291.72,296.97 291.92,295.62 292.13,294.84 292.33,294.52 292.53,294.49 292.74,294.81 292.94,295.58 293.14,296.82 293.35,298.34 293.55,299.74 293.76,300.67 293.96,301.29 294.16,301.89 294.37,302.25 294.57,301.83 294.77,300.50 294.98,298.63 295.18,296.72 295.38,295.10 295.59,294.04 295.79,293.77 295.99,294.30 296.20,295.37 296.40,296.72 296.60,298.34 296.81,300.25 297.01,302.11 297.22,303.38 297.42,303.76 297.62,303.37 297.83,302.31 298.03,300.57 298.23,298.30 298.44,296.10 298.64,294.57 298.84,293.78 299.05,293.55 299.25,293.83 299.45,294.76 299.66,296.36 299.86,298.37 300.06,300.37 300.27,301.95 300.47,302.94 300.67,303.32 300.88,302.94 301.08,301.80 301.28,300.27 301.49,298.81 301.69,297.63 301.90,296.68 302.10,295.97 302.30,295.69 302.51,295.98 302.71,296.72 302.91,297.61 303.12,298.43 303.32,299.00 303.52,299.22 303.73,299.25 303.93,299.31 304.13,299.34 304.34,299.12 304.54,298.69 304.74,298.37 304.95,298.30 305.15,298.29 305.36,298.15 305.56,297.98 305.76,297.93 305.97,297.98 306.17,298.16 306.37,298.56 306.58,299.11 306.78,299.56 306.98,299.76 307.19,299.76 307.39,299.59 307.59,299.26 307.80,298.78 308.00,298.09 308.20,297.22 308.41,296.50 308.61,296.28 308.81,296.52 309.02,297.00 309.22,297.55 309.43,298.02 309.63,298.34 309.83,298.56 310.04,298.73 310.24,298.82 310.44,298.82 310.65,298.80 310.85,298.74 311.05,298.54 311.26,298.21 311.46,297.79 311.66,297.25 311.87,296.74 312.07,296.56 312.27,296.86 312.48,297.49 312.68,298.14 312.88,298.62 313.09,298.98 313.29,299.47 313.50,300.02 313.70,300.16 313.90,299.70 314.11,299.05 314.31,298.56 314.51,298.12 314.72,297.57 314.92,297.06 315.12,296.92 315.33,297.25 315.53,297.99 315.73,298.83 315.94,299.42 316.14,299.60 316.34,299.50 316.55,299.42 316.75,299.51 316.95,299.61 317.16,299.56 317.36,299.35 317.56,299.00 317.77,298.45 317.97,297.76 318.18,297.04 318.38,296.55 318.58,296.51 318.79,296.90 318.99,297.52 319.19,298.15 319.40,298.73 319.60,299.36 319.80,299.88 320.01,299.97 320.21,299.64 320.41,299.27 320.62,298.93 320.82,298.42 321.02,297.85 321.23,297.56 321.43,297.63 321.63,297.82 321.84,297.92 322.04,297.94 322.25,298.10 322.45,298.57 322.65,299.29 322.86,299.96 323.06,300.33 323.26,300.37 323.47,300.08 323.67,299.54 323.87,299.05 324.08,298.80 324.28,298.51 324.48,297.89 324.69,297.18 324.89,296.80 325.09,296.83 325.30,297.12 325.50,297.53 325.71,297.95 325.91,298.29 326.11,298.66 326.32,299.15 326.52,299.66 326.72,299.90 326.93,299.66 327.13,298.99 327.33,298.26 327.54,297.74 327.74,297.37 327.94,297.03 328.15,296.82 328.35,296.86 328.55,297.20 328.76,297.79 328.96,298.47 329.16,299.01 329.37,299.34 329.57,299.59 329.77,299.80 329.98,299.89 330.18,299.77 330.39,299.47 330.59,298.91 330.79,298.13 331.00,297.55 331.20,297.49 331.40,297.79 331.61,298.16 331.81,298.50 332.01,298.78 332.22,299.04 332.42,299.32 332.62,299.53 332.83,299.51 333.03,299.14 333.23,298.54 333.44,297.99 333.64,297.79 333.85,297.90 334.05,298.00 334.25,297.96 334.46,297.88 334.66,297.77 334.86,297.69 335.07,297.85 335.27,298.37 335.47,299.11 335.68,299.79 335.88,300.22 336.08,300.39 336.29,300.37 336.49,300.20 336.69,300.02 336.90,299.87 337.10,299.55 337.30,298.88 337.51,298.03 337.71,297.37 337.91,297.08 338.12,296.97 338.32,297.01 338.53,297.51 338.73,298.59 338.93,299.65 339.14,300.18 339.34,300.34 339.54,300.44 339.75,300.41 339.95,300.16 340.15,299.73 340.36,299.03 340.56,298.06 340.76,297.13 340.97,296.60 341.17,296.52 341.37,296.79 341.58,297.30 341.78,297.95 341.99,298.67 342.19,299.42 342.39,300.13 342.60,300.75 342.80,301.22 343.00,301.45 343.21,301.26 343.41,300.55 343.61,299.36 343.82,297.95 344.02,296.83 344.22,296.34 344.43,296.33 344.63,296.38 344.83,296.35 345.04,296.59 345.24,297.40 345.44,298.55 345.65,299.63 345.85,300.41 346.06,300.63 346.26,300.23 346.46,299.49 346.67,298.86 346.87,298.57 347.07,298.55 347.28,298.51 347.48,298.34 347.68,298.24 347.89,298.34 348.09,298.55 348.29,298.86 348.50,299.24 348.70,299.40 348.90,299.23 349.11,299.02 349.31,299.09 349.51,299.31 349.72,299.34 349.92,299.11 350.12,298.68 350.33,298.10 350.53,297.54 350.74,297.25 350.94,297.28 351.14,297.55 351.35,297.85 351.55,298.03 351.75,298.19 351.96,298.39 352.16,298.57 352.36,298.77 352.57,299.11 352.77,299.44 352.97,299.54 353.18,299.49 353.38,299.46 353.58,299.24 353.79,298.69 353.99,298.16 354.19,298.00 354.40,298.09 354.60,298.14 354.81,298.13 355.01,298.23 355.21,298.53 355.42,299.03 355.62,299.63 355.82,300.17 356.03,300.51 356.23,300.46 356.43,299.94 356.64,299.06 356.84,298.14 357.04,297.54 357.25,297.35 357.45,297.39 357.65,297.51 357.86,297.67 358.06,297.87 358.26,298.25 358.47,298.94 358.67,299.83 358.88,300.59 359.08,300.95 359.28,300.76 359.49,300.14 359.69,299.37 359.89,298.61 360.10,297.86 360.30,297.14 360.50,296.69 360.71,296.66 360.91,296.86 361.11,297.09 361.32,297.40 361.52,298.04 361.72,299.13 361.93,300.47 362.13,301.59 362.34,302.06 362.54,301.74 362.74,300.83 362.95,299.73 363.15,298.77 363.35,298.05 363.56,297.53 363.76,297.15 363.96,296.84 364.17,296.62 364.37,296.74 364.57,297.46 364.78,298.72 364.98,300.23 365.18,301.59 365.39,302.43 365.59,302.74 365.79,302.56 366.00,301.83 366.20,300.60 366.40,299.16 366.61,297.66 366.81,296.13 367.02,294.86 367.22,294.30 367.42,294.62 367.63,295.76 367.83,297.41 368.03,299.08 368.24,300.40 368.44,301.23 368.64,301.55 368.85,301.46 369.05,301.11 369.25,300.56 369.46,299.79 369.66,298.75 369.86,297.57 370.07,296.59 370.27,296.13 370.48,296.10 370.68,296.32 370.88,296.85 371.09,297.68 371.29,298.71 371.49,299.84 371.70,300.75 371.90,301.02 372.10,300.67 372.31,299.98 372.51,299.09 372.71,298.25 372.92,297.76 373.12,297.54 373.32,297.23 373.53,296.81 373.73,296.55 373.93,296.62 374.14,296.94 374.34,297.44 374.54,298.15 374.75,298.86 374.95,299.25 375.16,299.34 375.36,299.49 375.56,299.87 375.77,300.22 375.97,300.15 376.17,299.58 376.38,298.83 376.58,298.33 376.78,298.21 376.99,298.26 377.19,298.33 377.39,298.47 377.60,298.70 377.80,298.96 378.00,299.21 378.21,299.47 378.41,299.78 378.62,300.02 378.82,299.94 379.02,299.44 379.23,298.68 379.43,297.98 379.63,297.57 379.84,297.25 380.04,296.79 380.24,296.42 380.45,296.55 380.65,297.13 380.85,297.88 381.06,298.63 381.26,299.19 381.46,299.34 381.67,299.23 381.87,299.13 382.07,298.98 382.28,298.51 382.48,297.80 382.69,297.21 382.89,296.94 383.09,296.97 383.30,297.21 383.50,297.58 383.70,297.95 383.91,298.24 384.11,298.58 384.31,299.16 384.52,299.96 384.72,300.69 384.92,301.14 385.13,301.22 385.33,300.94 385.53,300.39 385.74,299.66 385.94,298.76 386.14,297.91 386.35,297.44 386.55,297.38 386.75,297.58 386.96,297.98 387.16,298.46 387.37,298.79 387.57,298.96 387.77,299.10 387.98,299.33 388.18,299.68 388.38,300.05 388.59,300.19 388.79,300.00 388.99,299.59 389.20,299.24 389.40,299.02 389.60,298.66 389.81,297.99 390.01,297.20 390.21,296.62 390.42,296.52 390.62,297.07 390.82,298.20 391.03,299.37 391.23,300.00 391.44,299.97 391.64,299.52 391.84,299.05 392.05,298.80 392.25,298.75 392.45,298.74 392.66,298.59 392.86,298.25 393.06,297.78 393.27,297.35 393.47,297.14 393.67,297.19 393.88,297.26 394.08,297.17 394.28,297.18 394.49,297.67 394.69,298.67 394.89,299.63 395.10,299.95 395.30,299.55 395.51,298.79 395.71,298.08 395.91,297.73 396.12,297.73 396.32,297.78 396.52,297.75 396.73,297.77 396.93,298.04 397.13,298.53 397.34,299.06 397.54,299.56 397.74,299.99 397.95,300.21 398.15,300.26 398.35,300.21 398.56,299.89 398.76,299.15 398.97,298.22 399.17,297.51 399.37,297.19 399.58,297.18 399.78,297.37 399.98,297.60 400.19,297.85 400.39,298.21 400.59,298.72 400.80,299.33 401.00,299.87" stroke="#0000ff" stroke-width="0.7" fill="none" stroke-linejoin="round" opacity="0.9"/>
<text x="288.3" y="239.5" text-anchor="middle" font-size="20.3">(c) Power spectra</text>
<text x="299.2" y="416.7" text-anchor="middle" font-size="17.4">Freq. [MHz]</text>
<text transform="translate(158.4,318.8) rotate(-90)" text-anchor="middle" font-size="17.4">Amplitude [a.u.]</text>
<text x="371.7" y="347.1" text-anchor="end" font-size="8.7" stroke-width="0.1">X+</text>
<line x1="375.5" y1="344.6" x2="394.7" y2="344.6" stroke="#33bb66" stroke-width="1.1"/>
<text x="371.7" y="355.5" text-anchor="end" font-size="8.7" stroke-width="0.1">X-</text>
<line x1="375.5" y1="354.3" x2="394.7" y2="354.3" stroke="#333333" stroke-width="1.1"/>
<text x="371.7" y="366.7" text-anchor="end" font-size="8.7" stroke-width="0.1">Y+</text>
<line x1="375.5" y1="364.3" x2="394.7" y2="364.3" stroke="#ff4444" stroke-width="1.1"/>
<text x="371.7" y="375.3" text-anchor="end" font-size="8.7" stroke-width="0.1">Y-</text>
<line x1="375.5" y1="374.0" x2="394.7" y2="374.0" stroke="#5555ff" stroke-width="1.1"/>
</svg>
</body></html>
